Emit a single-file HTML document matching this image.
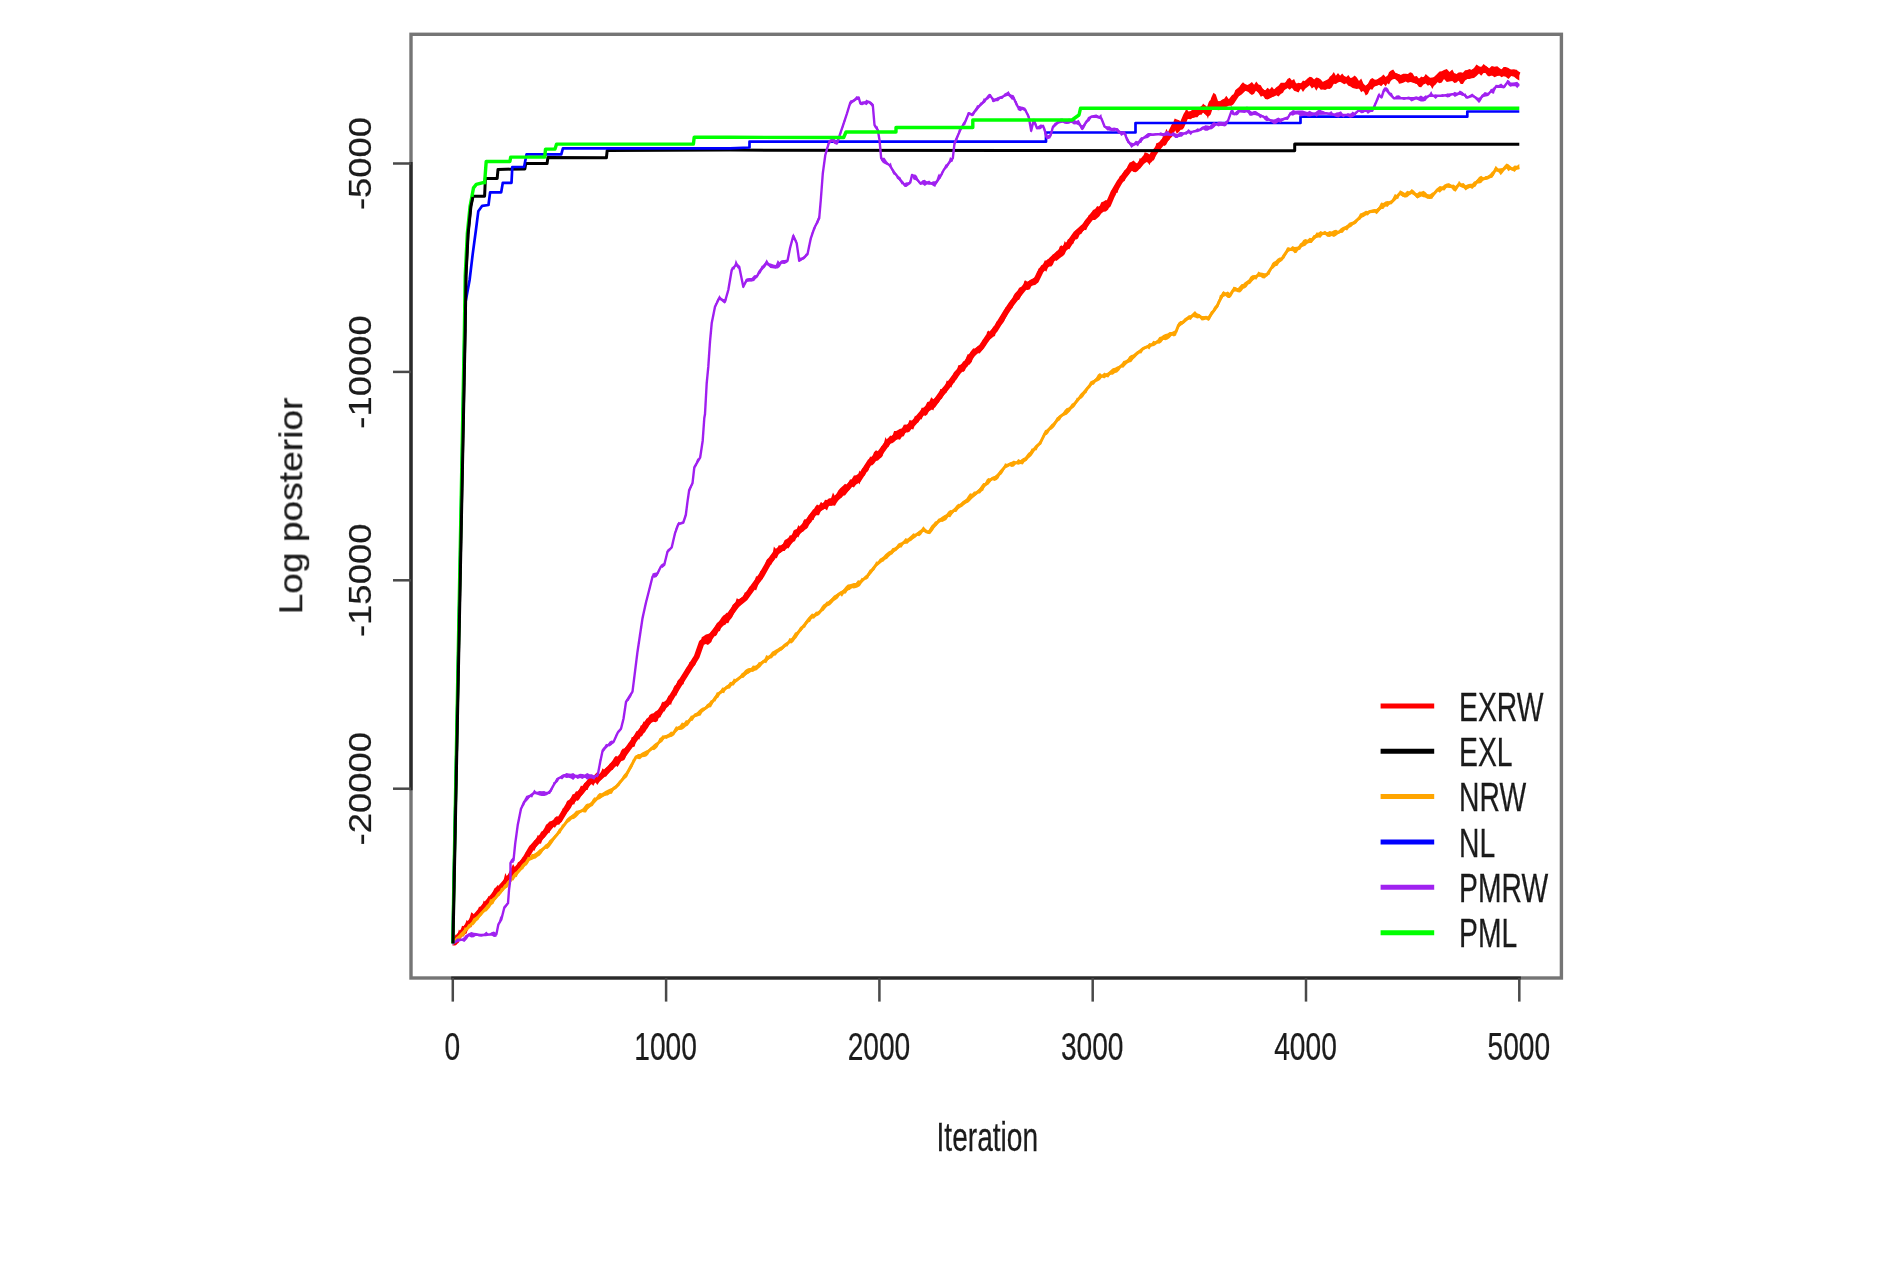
<!DOCTYPE html>
<html lang="en"><head><meta charset="utf-8"><title>Log posterior vs iteration</title>
<style>html,body{margin:0;padding:0;background:#fff}body{width:1896px;height:1284px;overflow:hidden}svg{display:block}</style>
</head><body>
<svg width="1896" height="1284" viewBox="0 0 1896 1284">
<defs><filter id="b" x="-2%" y="-2%" width="104%" height="104%"><feGaussianBlur stdDeviation="0.75"/></filter><filter id="x" x="-2%" y="-2%" width="104%" height="104%"><feGaussianBlur stdDeviation="0.35"/></filter><filter id="t" x="-2%" y="-2%" width="104%" height="104%"><feGaussianBlur stdDeviation="0.5"/></filter><clipPath id="cp"><rect x="451.2" y="36" width="1069.4" height="909.6"/></clipPath></defs>
<rect width="1896" height="1284" fill="#fff"/>
<g filter="url(#b)">
<g fill="none" stroke-linejoin="round" stroke-linecap="butt" clip-path="url(#cp)">
<path d="M452.7 943.4 L471.3 921.3 L491.4 898.2 L511.5 875.1 L524.5 860.0 L531.0 848.7 L542.7 835.3 L552.7 823.7 L559.3 820.3 L569.3 803.7 L581.0 792.0 L589.3 782.0 L599.3 777.8 L611.0 767.0 L624.3 753.7 L637.7 735.3 L649.3 720.3 L657.7 715.3 L664.3 705.3 L668.5 702.0 L680.0 683.3 L688.3 670.0 L696.7 656.7 L701.7 642.5 L710.0 637.5 L718.3 626.7 L728.3 616.7 L736.7 605.0 L745.0 598.3 L753.3 586.7 L761.7 575.0 L768.3 563.3 L776.7 551.7 L786.7 545.0 L796.7 533.3 L806.7 523.3 L815.0 511.7 L825.0 505.0 L835.0 499.2 L843.3 491.7 L851.7 483.3 L858.3 480.0 L870.0 461.7 L880.0 453.3 L888.3 441.7 L900.0 433.3 L913.3 423.3 L923.3 411.7 L933.3 405.0 L941.7 393.3 L950.0 383.3 L958.3 371.7 L965.0 365.0 L973.3 353.3 L981.7 346.7 L988.3 336.7 L995.0 330.0 L1005.6 312.7 L1010.6 305.1 L1019.0 294.1 L1025.8 285.7 L1036.0 280.6 L1041.0 270.5 L1043.0 268.3 L1051.3 260.0 L1059.7 252.5 L1068.0 245.0 L1076.3 233.3 L1084.7 225.8 L1093.0 215.0 L1101.3 208.3 L1108.0 205.0 L1113.0 193.3 L1119.7 181.7 L1126.3 173.3 L1131.3 166.7 L1138.0 166.7 L1144.7 158.3 L1149.7 160.0 L1156.3 150.0 L1163.0 141.7 L1169.7 135.0 L1174.7 125.0 L1181.3 126.7 L1186.3 115.0 L1193.0 115.0 L1199.7 111.7 L1203.0 108.3 L1208.0 113.3 L1211.3 103.3 L1218.0 105.0 L1226.3 101.7 L1231.3 102.5 L1236.3 95.0 L1243.0 86.7 L1249.7 89.2 L1256.3 87.5 L1263.0 92.5 L1269.7 95.0 L1276.3 91.7 L1283.0 87.5 L1289.7 83.3 L1296.3 86.7 L1303.0 85.8 L1309.7 80.8 L1316.3 84.2 L1323.0 85.0 L1329.7 81.7 L1338.0 78.3 L1346.3 80.0 L1354.7 81.7 L1359.0 85.0 L1365.7 89.2 L1372.3 84.2 L1379.0 81.7 L1385.7 80.8 L1390.7 76.7 L1395.7 75.8 L1400.7 80.0 L1405.7 77.5 L1412.3 79.2 L1419.0 81.7 L1425.7 79.2 L1432.3 83.3 L1437.3 78.3 L1444.0 75.8 L1452.3 75.8 L1460.7 78.3 L1467.3 75.8 L1474.0 71.7 L1479.0 70.0 L1485.7 69.2 L1489.0 72.5 L1497.3 72.5 L1505.7 72.5 L1514.0 72.5 L1519.3 75.0" stroke="#ff0000" stroke-width="5.8"/>
<path d="M452.7 939.1 L454.2 937.0 L455.8 934.6 L457.4 935.2 L458.9 929.4 L460.4 931.2 L462.0 925.8 L463.6 926.3 L465.1 924.2 L466.6 920.1 L468.2 921.3 L469.8 917.5 L471.3 912.2 L472.8 913.2 L474.4 915.1 L475.9 913.3 L477.5 911.4 L479.0 906.6 L480.6 907.5 L482.1 906.0 L483.7 900.5 L485.2 902.1 L486.8 900.8 L488.3 896.1 L489.9 897.3 L491.4 894.3 L492.9 891.6 L494.5 888.3 L496.0 887.3 L497.6 884.9 L499.1 886.8 L500.7 884.1 L502.2 882.7 L503.8 879.2 L505.3 873.1 L506.9 876.2 L508.4 873.8 L510.0 870.3 L511.5 867.5 L513.1 863.9 L514.8 866.9 L516.4 866.8 L518.0 862.0 L519.6 861.8 L521.2 859.6 L522.9 856.8 L524.5 857.3 L525.8 852.2 L527.1 851.2 L528.4 850.8 L529.7 845.6 L531.0 845.3 L532.7 843.6 L534.3 840.6 L536.0 839.8 L537.7 834.9 L539.4 836.2 L541.0 831.8 L542.7 831.0 L544.4 828.3 L546.0 824.8 L547.7 823.4 L549.4 821.5 L551.0 821.3 L552.7 820.8 L554.9 817.5 L557.1 816.1 L559.3 818.0 L560.5 814.7 L561.8 811.1 L563.0 807.8 L564.3 809.1 L565.5 806.0 L566.8 801.4 L568.0 800.3 L569.3 800.5 L571.0 797.4 L572.6 794.3 L574.3 794.0 L576.0 791.2 L577.7 791.6 L579.3 789.1 L581.0 785.5 L582.7 786.7 L584.3 782.9 L586.0 782.3 L587.6 780.8 L589.3 777.2 L591.3 776.2 L593.3 776.3 L595.3 774.1 L597.3 772.1 L599.3 774.9 L601.0 771.9 L602.6 768.3 L604.3 770.0 L606.0 767.8 L607.7 767.2 L609.3 763.9 L611.0 762.4 L612.7 760.2 L614.3 757.6 L616.0 755.7 L617.6 757.1 L619.3 755.3 L621.0 751.1 L622.6 748.7 L624.3 748.4 L625.8 747.1 L627.3 746.5 L628.8 742.8 L630.3 742.4 L631.7 737.1 L633.2 737.1 L634.7 734.8 L636.2 731.3 L637.7 731.2 L639.2 731.1 L640.6 725.5 L642.0 725.2 L643.5 721.5 L645.0 721.8 L646.4 718.4 L647.8 719.6 L649.3 715.2 L651.4 713.8 L653.5 713.2 L655.6 711.2 L657.7 710.3 L659.0 710.8 L660.3 707.9 L661.7 702.7 L663.0 701.4 L664.3 702.8 L666.4 700.6 L668.5 695.5 L669.8 696.0 L671.1 694.3 L672.3 693.3 L673.6 687.4 L674.9 685.2 L676.2 685.1 L677.4 681.0 L678.7 679.5 L680.0 679.0 L681.2 678.6 L682.4 676.0 L683.6 673.0 L684.7 672.4 L685.9 668.8 L687.1 667.1 L688.3 666.9 L689.5 661.9 L690.7 662.0 L691.9 661.7 L693.1 657.3 L694.3 656.7 L695.5 655.8 L696.7 653.5 L697.5 650.4 L698.4 647.3 L699.2 645.7 L700.0 644.6 L700.9 641.3 L701.7 637.3 L703.8 635.9 L705.9 634.5 L707.9 633.9 L710.0 633.3 L711.4 631.6 L712.8 630.0 L714.1 628.1 L715.5 625.6 L716.9 622.9 L718.3 622.1 L720.0 619.9 L721.6 617.6 L723.3 615.4 L725.0 614.5 L726.6 612.7 L728.3 612.9 L729.7 610.1 L731.1 608.7 L732.5 605.0 L733.9 603.8 L735.3 602.8 L736.7 598.3 L738.8 599.2 L740.9 598.0 L742.9 596.9 L745.0 592.0 L746.4 593.1 L747.8 591.1 L749.1 586.9 L750.5 586.2 L751.9 584.8 L753.3 583.4 L754.7 580.8 L756.1 576.1 L757.5 576.9 L758.9 575.9 L760.3 570.8 L761.7 571.5 L762.8 570.7 L763.9 568.4 L765.0 564.7 L766.1 561.1 L767.2 558.9 L768.3 558.6 L769.7 557.7 L771.1 555.1 L772.5 554.7 L773.9 546.5 L775.3 548.2 L776.7 549.4 L778.7 545.3 L780.7 545.4 L782.7 544.3 L784.7 539.9 L786.7 539.1 L788.4 537.8 L790.0 535.1 L791.7 536.2 L793.4 530.8 L795.0 529.6 L796.7 529.2 L798.4 525.0 L800.0 527.6 L801.7 525.5 L803.4 520.7 L805.0 518.7 L806.7 520.4 L808.1 515.9 L809.5 514.4 L810.9 512.7 L812.2 511.7 L813.6 510.7 L815.0 506.9 L817.0 504.5 L819.0 505.5 L821.0 501.7 L823.0 503.9 L825.0 499.8 L827.0 499.9 L829.0 498.3 L831.0 498.5 L833.0 492.6 L835.0 496.3 L836.7 493.6 L838.3 490.6 L840.0 488.6 L841.6 486.9 L843.3 485.4 L845.0 483.8 L846.7 484.7 L848.3 482.4 L850.0 479.6 L851.7 479.3 L853.9 475.6 L856.1 475.3 L858.3 473.7 L859.6 470.6 L860.9 472.3 L862.2 468.0 L863.5 469.4 L864.8 465.3 L866.1 464.6 L867.4 462.6 L868.7 460.7 L870.0 456.6 L872.0 457.3 L874.0 452.2 L876.0 450.2 L878.0 451.3 L880.0 450.0 L881.4 446.2 L882.8 445.8 L884.1 442.4 L885.5 437.1 L886.9 440.1 L888.3 438.1 L890.2 435.6 L892.2 436.5 L894.1 431.1 L896.1 431.0 L898.0 430.1 L900.0 428.7 L901.9 428.8 L903.8 424.7 L905.7 424.6 L907.6 425.1 L909.5 420.0 L911.4 420.5 L913.3 420.7 L915.0 415.6 L916.6 416.9 L918.3 414.0 L920.0 412.5 L921.6 407.7 L923.3 407.8 L925.3 405.9 L927.3 402.0 L929.3 401.5 L931.3 397.2 L933.3 399.3 L934.7 398.3 L936.1 397.2 L937.5 396.7 L938.9 393.4 L940.3 389.0 L941.7 389.3 L943.4 388.2 L945.0 386.1 L946.7 380.6 L948.3 381.3 L950.0 379.8 L951.4 377.3 L952.8 375.5 L954.1 371.8 L955.5 371.8 L956.9 369.9 L958.3 365.2 L960.0 365.1 L961.6 363.7 L963.3 361.2 L965.0 361.5 L966.4 356.9 L967.8 354.0 L969.1 354.4 L970.5 351.9 L971.9 350.0 L973.3 348.2 L975.4 349.1 L977.5 346.5 L979.6 345.3 L981.7 342.9 L983.0 339.3 L984.3 338.7 L985.7 338.2 L987.0 331.9 L988.3 330.5 L990.0 331.9 L991.6 329.5 L993.3 326.6 L995.0 326.5 L996.3 321.5 L997.6 322.0 L999.0 320.4 L1000.3 319.0 L1001.6 314.7 L1003.0 312.3 L1004.3 311.0 L1005.6 307.3 L1006.9 307.8 L1008.1 305.0 L1009.4 303.7 L1010.6 300.5 L1012.0 300.5 L1013.4 295.7 L1014.8 293.5 L1016.2 292.0 L1017.6 290.5 L1019.0 288.1 L1020.4 287.0 L1021.7 287.9 L1023.1 285.9 L1024.4 280.8 L1025.8 280.6 L1027.8 282.2 L1029.9 280.1 L1031.9 278.9 L1034.0 277.7 L1036.0 277.1 L1037.0 272.0 L1038.0 270.7 L1039.0 268.1 L1040.0 268.8 L1041.0 265.4 L1043.0 264.4 L1044.7 260.4 L1046.3 260.6 L1048.0 258.9 L1049.6 259.1 L1051.3 256.5 L1053.0 254.2 L1054.7 254.6 L1056.3 251.6 L1058.0 251.7 L1059.7 246.6 L1061.4 245.2 L1063.0 246.8 L1064.7 240.9 L1066.3 243.2 L1068.0 239.1 L1069.4 239.5 L1070.8 237.3 L1072.2 234.4 L1073.5 234.3 L1074.9 231.2 L1076.3 230.1 L1078.0 229.0 L1079.7 227.0 L1081.3 225.3 L1083.0 224.2 L1084.7 220.7 L1086.1 219.0 L1087.5 217.7 L1088.8 215.1 L1090.2 214.6 L1091.6 212.2 L1093.0 210.1 L1095.1 209.0 L1097.2 206.1 L1099.2 207.1 L1101.3 202.3 L1103.5 201.4 L1105.8 200.0 L1108.0 200.7 L1109.0 199.1 L1110.0 194.6 L1111.0 191.9 L1112.0 189.8 L1113.0 190.8 L1114.1 188.6 L1115.2 184.4 L1116.3 184.3 L1117.5 182.4 L1118.6 179.9 L1119.7 176.3 L1121.3 175.2 L1123.0 172.5 L1124.7 170.1 L1126.3 169.2 L1128.0 165.2 L1129.6 162.5 L1131.3 161.9 L1133.5 160.6 L1135.8 162.7 L1138.0 164.1 L1139.7 158.1 L1141.3 159.1 L1143.0 157.0 L1144.7 152.3 L1147.2 152.9 L1149.7 154.5 L1151.0 151.5 L1152.3 152.1 L1153.7 149.0 L1155.0 148.0 L1156.3 143.3 L1158.0 142.7 L1159.7 141.9 L1161.3 141.1 L1163.0 136.1 L1164.7 134.3 L1166.3 128.8 L1168.0 132.0 L1169.7 131.4 L1170.7 130.1 L1171.7 125.3 L1172.7 125.7 L1173.7 121.0 L1174.7 118.4 L1176.9 119.5 L1179.1 120.2 L1181.3 122.1 L1182.3 117.8 L1183.3 117.9 L1184.3 113.3 L1185.3 111.1 L1186.3 108.7 L1188.5 111.6 L1190.8 111.1 L1193.0 109.0 L1195.2 109.8 L1197.5 109.1 L1199.7 107.3 L1201.3 107.7 L1203.0 103.4 L1204.7 105.1 L1206.3 106.0 L1208.0 109.8 L1208.8 106.7 L1209.7 101.7 L1210.5 99.9 L1211.3 97.6 L1213.5 92.7 L1215.8 94.6 L1218.0 100.9 L1220.1 101.5 L1222.2 99.4 L1224.2 98.8 L1226.3 95.7 L1228.8 99.3 L1231.3 96.1 L1232.5 94.6 L1233.8 96.3 L1235.0 90.5 L1236.3 89.3 L1238.0 88.0 L1239.7 87.0 L1241.3 83.9 L1243.0 82.3 L1245.2 84.2 L1247.5 84.9 L1249.7 83.7 L1251.9 82.0 L1254.1 84.7 L1256.3 81.5 L1258.5 84.4 L1260.8 85.2 L1263.0 89.2 L1265.2 90.5 L1267.5 87.8 L1269.7 89.5 L1271.9 86.8 L1274.1 89.4 L1276.3 87.3 L1278.5 85.8 L1280.8 82.8 L1283.0 82.8 L1285.2 82.7 L1287.5 78.9 L1289.7 77.8 L1291.9 80.6 L1294.1 79.1 L1296.3 84.0 L1298.5 82.7 L1300.8 83.5 L1303.0 80.5 L1305.2 81.5 L1307.5 78.6 L1309.7 76.7 L1311.9 77.2 L1314.1 79.4 L1316.3 77.6 L1318.5 78.1 L1320.8 79.4 L1323.0 82.3 L1325.2 81.1 L1327.5 80.4 L1329.7 76.8 L1331.8 75.1 L1333.8 71.9 L1335.9 75.7 L1338.0 73.0 L1340.1 75.7 L1342.2 73.4 L1344.2 76.1 L1346.3 76.9 L1348.4 74.9 L1350.5 78.2 L1352.6 77.2 L1354.7 75.4 L1356.8 77.6 L1359.0 81.0 L1361.2 78.5 L1363.5 83.8 L1365.7 86.0 L1367.9 83.7 L1370.1 79.4 L1372.3 78.0 L1374.5 79.4 L1376.8 79.9 L1379.0 78.0 L1381.2 76.7 L1383.5 74.6 L1385.7 77.1 L1387.4 76.4 L1389.0 72.3 L1390.7 70.7 L1393.2 69.6 L1395.7 73.3 L1397.4 74.0 L1399.0 74.1 L1400.7 74.9 L1403.2 73.7 L1405.7 73.8 L1407.9 73.9 L1410.1 72.3 L1412.3 73.0 L1414.5 76.5 L1416.8 76.0 L1419.0 79.0 L1421.2 76.4 L1423.5 77.7 L1425.7 74.1 L1427.9 76.1 L1430.1 77.7 L1432.3 77.4 L1434.0 77.1 L1435.6 75.5 L1437.3 73.8 L1439.5 71.5 L1441.8 71.3 L1444.0 70.0 L1446.8 68.9 L1449.5 72.0 L1452.3 69.4 L1454.4 73.6 L1456.5 73.9 L1458.6 72.6 L1460.7 72.2 L1462.9 72.7 L1465.1 70.2 L1467.3 70.0 L1469.5 69.1 L1471.8 69.9 L1474.0 67.9 L1476.5 64.4 L1479.0 66.2 L1481.2 67.3 L1483.5 63.9 L1485.7 65.8 L1487.3 67.0 L1489.0 68.4 L1491.8 66.0 L1494.5 66.8 L1497.3 66.2 L1499.4 67.9 L1501.5 69.5 L1503.6 67.0 L1505.7 67.1 L1508.5 68.1 L1511.2 69.9 L1514.0 69.6 L1516.7 69.7 L1519.3 72.5 L1519.3 80.4 L1516.7 78.9 L1514.0 76.7 L1511.2 76.0 L1508.5 79.0 L1505.7 76.8 L1503.6 76.2 L1501.5 77.2 L1499.4 75.6 L1497.3 75.9 L1494.5 77.2 L1491.8 75.3 L1489.0 76.6 L1487.3 75.5 L1485.7 72.9 L1483.5 72.9 L1481.2 75.8 L1479.0 73.5 L1476.5 75.9 L1474.0 78.1 L1471.8 78.2 L1469.5 79.0 L1467.3 79.1 L1465.1 80.5 L1462.9 83.9 L1460.7 84.0 L1458.6 80.5 L1456.5 82.4 L1454.4 83.0 L1452.3 80.9 L1449.5 81.6 L1446.8 82.1 L1444.0 78.9 L1441.8 82.4 L1439.5 83.3 L1437.3 82.1 L1435.6 84.4 L1434.0 85.8 L1432.3 89.1 L1430.1 84.6 L1427.9 85.7 L1425.7 83.5 L1423.5 84.5 L1421.2 87.2 L1419.0 87.0 L1416.8 83.9 L1414.5 83.1 L1412.3 82.2 L1410.1 82.0 L1407.9 82.7 L1405.7 81.4 L1403.2 82.7 L1400.7 83.6 L1399.0 83.8 L1397.4 79.6 L1395.7 78.8 L1393.2 78.7 L1390.7 81.0 L1389.0 84.6 L1387.4 83.2 L1385.7 86.4 L1383.5 83.8 L1381.2 86.2 L1379.0 84.8 L1376.8 85.6 L1374.5 86.2 L1372.3 89.7 L1370.1 89.0 L1367.9 93.9 L1365.7 95.4 L1363.5 90.4 L1361.2 92.3 L1359.0 88.6 L1356.8 89.1 L1354.7 88.4 L1352.6 87.9 L1350.5 86.5 L1348.4 85.7 L1346.3 83.3 L1344.2 84.2 L1342.2 82.9 L1340.1 81.7 L1338.0 82.6 L1335.9 84.0 L1333.8 83.8 L1331.8 87.4 L1329.7 88.9 L1327.5 88.8 L1325.2 90.0 L1323.0 89.6 L1320.8 89.7 L1318.5 86.9 L1316.3 90.7 L1314.1 86.8 L1311.9 88.5 L1309.7 85.2 L1307.5 87.0 L1305.2 88.8 L1303.0 91.9 L1300.8 88.5 L1298.5 92.5 L1296.3 91.5 L1294.1 90.8 L1291.9 87.8 L1289.7 89.8 L1287.5 88.0 L1285.2 88.6 L1283.0 92.7 L1280.8 93.9 L1278.5 96.4 L1276.3 95.2 L1274.1 96.4 L1271.9 97.3 L1269.7 98.6 L1267.5 99.5 L1265.2 99.0 L1263.0 95.7 L1260.8 96.7 L1258.5 92.9 L1256.3 90.0 L1254.1 93.7 L1251.9 94.9 L1249.7 93.4 L1247.5 90.9 L1245.2 91.0 L1243.0 93.3 L1241.3 94.8 L1239.7 95.8 L1238.0 96.1 L1236.3 97.8 L1235.0 101.3 L1233.8 103.0 L1232.5 103.5 L1231.3 105.7 L1228.8 105.8 L1226.3 106.9 L1224.2 108.1 L1222.2 107.6 L1220.1 109.9 L1218.0 110.3 L1215.8 109.3 L1213.5 109.0 L1211.3 105.8 L1210.5 111.6 L1209.7 114.3 L1208.8 114.4 L1208.0 119.1 L1206.3 114.2 L1204.7 113.7 L1203.0 112.2 L1201.3 114.9 L1199.7 114.0 L1197.5 117.2 L1195.2 117.2 L1193.0 117.6 L1190.8 119.2 L1188.5 118.9 L1186.3 119.0 L1185.3 123.8 L1184.3 123.4 L1183.3 124.7 L1182.3 129.5 L1181.3 129.1 L1179.1 131.7 L1176.9 133.8 L1174.7 129.6 L1173.7 129.8 L1172.7 133.3 L1171.7 134.4 L1170.7 135.7 L1169.7 139.5 L1168.0 141.3 L1166.3 144.6 L1164.7 146.1 L1163.0 145.1 L1161.3 146.8 L1159.7 148.8 L1158.0 151.2 L1156.3 152.6 L1155.0 157.9 L1153.7 160.6 L1152.3 160.3 L1151.0 160.4 L1149.7 165.2 L1147.2 161.8 L1144.7 163.2 L1143.0 164.6 L1141.3 166.6 L1139.7 168.2 L1138.0 170.8 L1135.8 172.3 L1133.5 172.0 L1131.3 170.3 L1129.6 172.7 L1128.0 175.2 L1126.3 176.2 L1124.7 180.9 L1123.0 181.4 L1121.3 182.5 L1119.7 184.8 L1118.6 188.7 L1117.5 192.9 L1116.3 192.6 L1115.2 195.7 L1114.1 194.5 L1113.0 197.1 L1112.0 198.6 L1111.0 203.7 L1110.0 204.8 L1109.0 207.8 L1108.0 209.7 L1105.8 211.5 L1103.5 211.8 L1101.3 213.5 L1099.2 216.6 L1097.2 218.3 L1095.1 220.0 L1093.0 219.9 L1091.6 219.2 L1090.2 221.9 L1088.8 224.7 L1087.5 227.0 L1086.1 230.2 L1084.7 229.8 L1083.0 231.2 L1081.3 234.1 L1079.7 234.4 L1078.0 238.4 L1076.3 239.5 L1074.9 239.0 L1073.5 243.5 L1072.2 244.4 L1070.8 246.7 L1069.4 249.3 L1068.0 248.9 L1066.3 250.5 L1064.7 254.3 L1063.0 256.0 L1061.4 256.9 L1059.7 258.3 L1058.0 259.7 L1056.3 261.1 L1054.7 260.0 L1053.0 264.5 L1051.3 266.4 L1049.6 266.4 L1048.0 267.4 L1046.3 271.7 L1044.7 270.3 L1043.0 271.7 L1041.0 274.0 L1040.0 274.9 L1039.0 277.9 L1038.0 279.5 L1037.0 282.6 L1036.0 284.6 L1034.0 285.3 L1031.9 285.1 L1029.9 289.2 L1027.8 290.1 L1025.8 289.7 L1024.4 290.3 L1023.1 291.4 L1021.7 294.7 L1020.4 297.5 L1019.0 300.0 L1017.6 299.7 L1016.2 301.8 L1014.8 302.1 L1013.4 305.8 L1012.0 308.7 L1010.6 308.0 L1009.4 310.4 L1008.1 312.5 L1006.9 315.8 L1005.6 318.0 L1004.3 321.1 L1003.0 323.0 L1001.6 324.3 L1000.3 326.0 L999.0 326.8 L997.6 329.6 L996.3 330.3 L995.0 336.0 L993.3 336.7 L991.6 338.2 L990.0 339.4 L988.3 341.5 L987.0 342.1 L985.7 345.2 L984.3 346.6 L983.0 349.4 L981.7 350.9 L979.6 353.6 L977.5 353.0 L975.4 355.6 L973.3 356.0 L971.9 361.8 L970.5 363.5 L969.1 365.0 L967.8 363.6 L966.4 366.3 L965.0 370.4 L963.3 371.9 L961.6 371.2 L960.0 372.5 L958.3 375.0 L956.9 379.3 L955.5 379.6 L954.1 383.0 L952.8 382.4 L951.4 387.7 L950.0 385.7 L948.3 387.9 L946.7 392.6 L945.0 393.7 L943.4 396.0 L941.7 399.0 L940.3 399.6 L938.9 402.6 L937.5 403.2 L936.1 404.9 L934.7 406.4 L933.3 410.5 L931.3 409.0 L929.3 410.6 L927.3 414.6 L925.3 416.0 L923.3 415.0 L921.6 419.4 L920.0 419.0 L918.3 422.4 L916.6 423.1 L915.0 424.7 L913.3 429.6 L911.4 429.0 L909.5 431.7 L907.6 432.5 L905.7 432.3 L903.8 436.2 L901.9 436.8 L900.0 439.8 L898.0 439.2 L896.1 440.0 L894.1 442.0 L892.2 443.2 L890.2 443.4 L888.3 447.3 L886.9 447.0 L885.5 450.2 L884.1 450.2 L882.8 455.8 L881.4 457.6 L880.0 458.5 L878.0 460.4 L876.0 460.9 L874.0 463.8 L872.0 465.5 L870.0 464.8 L868.7 469.9 L867.4 471.8 L866.1 471.4 L864.8 476.2 L863.5 474.3 L862.2 477.9 L860.9 479.7 L859.6 484.5 L858.3 482.7 L856.1 484.4 L853.9 487.4 L851.7 486.6 L850.0 489.6 L848.3 491.2 L846.7 493.3 L845.0 495.5 L843.3 495.4 L841.6 497.8 L840.0 498.8 L838.3 500.6 L836.7 502.7 L835.0 505.7 L833.0 505.5 L831.0 506.1 L829.0 505.6 L827.0 510.6 L825.0 508.7 L823.0 509.4 L821.0 510.8 L819.0 515.3 L817.0 515.3 L815.0 515.2 L813.6 519.9 L812.2 519.9 L810.9 522.9 L809.5 522.6 L808.1 527.3 L806.7 528.7 L805.0 529.7 L803.4 531.6 L801.7 532.3 L800.0 533.7 L798.4 537.4 L796.7 535.7 L795.0 541.2 L793.4 541.4 L791.7 542.0 L790.0 546.0 L788.4 548.5 L786.7 547.7 L784.7 551.1 L782.7 550.9 L780.7 552.8 L778.7 553.9 L776.7 558.4 L775.3 557.0 L773.9 560.7 L772.5 561.5 L771.1 564.9 L769.7 565.0 L768.3 567.9 L767.2 568.0 L766.1 570.8 L765.0 573.5 L763.9 574.6 L762.8 579.0 L761.7 579.7 L760.3 581.5 L758.9 581.9 L757.5 586.7 L756.1 590.4 L754.7 589.4 L753.3 589.2 L751.9 593.3 L750.5 594.0 L749.1 596.2 L747.8 597.5 L746.4 599.7 L745.0 600.8 L742.9 602.5 L740.9 604.5 L738.8 606.9 L736.7 609.0 L735.3 611.1 L733.9 613.5 L732.5 616.8 L731.1 618.7 L729.7 620.2 L728.3 623.3 L726.6 623.0 L725.0 625.2 L723.3 624.4 L721.6 626.0 L720.0 630.9 L718.3 631.4 L716.9 634.7 L715.5 636.3 L714.1 635.3 L712.8 637.8 L711.4 642.1 L710.0 643.3 L707.9 645.1 L705.9 643.9 L703.8 644.8 L701.7 645.2 L700.9 650.6 L700.0 652.0 L699.2 652.3 L698.4 657.5 L697.5 659.5 L696.7 660.9 L695.5 664.5 L694.3 666.1 L693.1 666.3 L691.9 667.0 L690.7 671.2 L689.5 670.6 L688.3 673.4 L687.1 676.8 L685.9 677.7 L684.7 678.5 L683.6 684.3 L682.4 684.4 L681.2 685.6 L680.0 686.5 L678.7 690.3 L677.4 692.9 L676.2 696.1 L674.9 694.2 L673.6 699.3 L672.3 698.8 L671.1 705.2 L669.8 703.5 L668.5 706.2 L666.4 708.1 L664.3 711.7 L663.0 709.9 L661.7 714.1 L660.3 717.6 L659.0 716.5 L657.7 720.9 L655.6 722.2 L653.5 721.8 L651.4 722.8 L649.3 725.3 L647.8 728.1 L646.4 729.7 L645.0 732.2 L643.5 733.4 L642.0 736.3 L640.6 736.6 L639.2 739.7 L637.7 738.5 L636.2 740.4 L634.7 746.5 L633.2 747.1 L631.7 746.2 L630.3 748.7 L628.8 752.1 L627.3 752.2 L625.8 757.3 L624.3 760.0 L622.6 760.7 L621.0 761.2 L619.3 764.2 L617.6 767.0 L616.0 765.7 L614.3 767.0 L612.7 770.0 L611.0 770.0 L609.3 772.8 L607.7 774.6 L606.0 776.7 L604.3 776.5 L602.6 777.6 L601.0 780.0 L599.3 782.0 L597.3 785.0 L595.3 782.1 L593.3 786.1 L591.3 783.6 L589.3 785.2 L587.6 790.0 L586.0 790.0 L584.3 792.6 L582.7 794.6 L581.0 796.5 L579.3 799.2 L577.7 801.1 L576.0 799.6 L574.3 804.4 L572.6 804.2 L571.0 807.8 L569.3 810.0 L568.0 811.7 L566.8 812.2 L565.5 814.7 L564.3 816.3 L563.0 816.8 L561.8 821.8 L560.5 822.0 L559.3 824.7 L557.1 824.6 L554.9 827.7 L552.7 826.2 L551.0 828.0 L549.4 833.3 L547.7 832.0 L546.0 835.7 L544.4 837.8 L542.7 838.8 L541.0 843.7 L539.4 843.6 L537.7 845.0 L536.0 847.2 L534.3 851.1 L532.7 849.8 L531.0 851.0 L529.7 855.4 L528.4 858.2 L527.1 861.5 L525.8 861.7 L524.5 865.1 L522.9 865.9 L521.2 869.6 L519.6 871.0 L518.0 872.9 L516.4 874.1 L514.8 876.8 L513.1 879.7 L511.5 877.6 L510.0 882.1 L508.4 881.5 L506.9 883.0 L505.3 885.4 L503.8 890.0 L502.2 891.2 L500.7 893.5 L499.1 895.9 L497.6 896.0 L496.0 899.3 L494.5 900.5 L492.9 902.5 L491.4 902.5 L489.9 904.8 L488.3 905.5 L486.8 910.2 L485.2 909.3 L483.7 912.9 L482.1 913.0 L480.6 916.2 L479.0 915.5 L477.5 917.6 L475.9 919.7 L474.4 922.8 L472.8 923.9 L471.3 927.3 L469.8 927.2 L468.2 928.3 L466.6 933.5 L465.1 933.9 L463.6 936.5 L462.0 935.7 L460.4 936.6 L458.9 942.6 L457.4 943.7 L455.8 945.5 L454.2 946.4 L452.7 948.2Z" fill="#ff0000" stroke="none"/>
<path d="M452.7 943.4 L465.0 330.0 L465.8 276.0 L467.9 234.0 L470.7 206.0 L472.8 196.3 L473.5 196.3 L484.6 196.3 L485.4 178.4 L497.2 178.4 L498.0 169.4 L524.9 168.9 L525.7 163.5 L547.1 163.5 L547.9 157.5 L606.4 157.8 L607.2 150.4 L730.0 150.1 L1294.7 150.8 L1294.7 144.0 L1519.3 144.2" stroke="#000000" stroke-width="3.0"/>
<path d="M452.7 943.4 L473.3 922.3 L493.4 900.2 L513.5 877.1 L526.5 862.5 L527.7 860.3 L537.7 853.7 L549.3 843.7 L557.7 833.7 L567.7 820.3 L576.0 813.7 L586.0 808.7 L597.7 797.8 L607.7 792.8 L616.0 787.0 L626.0 775.3 L636.0 757.0 L644.3 754.5 L656.0 745.3 L664.3 737.0 L671.0 735.3 L677.7 728.7 L686.0 723.7 L692.7 717.0 L702.7 710.3 L711.0 703.7 L718.3 694.0 L730.0 685.0 L743.3 675.0 L756.7 666.7 L770.0 656.7 L781.7 648.3 L793.3 638.3 L801.7 628.3 L810.0 618.3 L820.0 611.7 L830.0 601.7 L840.0 593.3 L851.7 586.7 L860.0 582.5 L868.3 575.0 L876.0 565.0 L901.7 544.0 L913.3 536.7 L923.3 530.0 L928.3 532.5 L938.3 521.7 L948.3 515.0 L958.3 506.7 L970.0 498.3 L980.0 490.0 L990.0 480.0 L996.7 476.7 L1005.0 466.7 L1011.7 463.3 L1018.3 462.5 L1025.0 460.0 L1033.3 450.0 L1040.0 443.3 L1045.0 433.3 L1053.3 425.0 L1060.0 416.7 L1066.7 411.7 L1075.0 403.3 L1083.3 393.3 L1091.7 383.3 L1100.0 376.7 L1108.3 374.2 L1115.0 370.8 L1123.3 364.2 L1133.3 356.7 L1143.3 348.3 L1153.3 344.2 L1163.3 338.3 L1176.0 331.7 L1178.3 325.8 L1186.7 319.2 L1195.0 314.2 L1201.7 317.5 L1208.3 318.3 L1216.7 306.7 L1223.3 293.3 L1230.0 295.8 L1233.3 290.0 L1240.0 289.2 L1248.3 281.7 L1258.3 275.0 L1266.7 275.0 L1273.3 265.0 L1281.7 259.2 L1288.3 249.2 L1296.7 250.0 L1303.3 243.3 L1311.7 240.0 L1318.3 234.2 L1325.0 233.3 L1331.7 234.2 L1338.3 232.5 L1345.0 228.3 L1353.3 223.3 L1361.7 215.8 L1370.0 211.7 L1376.7 210.8 L1383.3 205.8 L1391.7 201.7 L1400.0 193.3 L1405.0 195.8 L1411.7 191.7 L1416.0 195.0 L1417.3 196.7 L1421.5 193.3 L1427.3 196.7 L1432.3 195.8 L1437.3 190.0 L1442.3 188.3 L1449.0 185.0 L1455.7 188.3 L1459.0 184.2 L1465.7 187.5 L1472.3 185.8 L1479.0 180.0 L1485.7 178.3 L1492.3 175.0 L1495.7 169.2 L1500.7 171.7 L1506.5 166.7 L1512.3 169.2 L1519.3 167.5" stroke="#ffa500" stroke-width="3.0"/>
<path d="M452.7 941.1 L454.4 940.6 L456.1 936.9 L457.9 936.7 L459.6 935.2 L461.3 932.7 L463.0 931.7 L464.7 927.3 L466.4 928.0 L468.1 924.6 L469.9 923.7 L471.6 922.0 L473.3 918.6 L475.0 917.5 L476.6 916.6 L478.3 915.7 L480.0 913.3 L481.7 911.8 L483.4 910.1 L485.0 908.3 L486.7 905.2 L488.4 904.3 L490.0 899.4 L491.7 898.9 L493.4 897.5 L494.9 897.4 L496.5 893.9 L498.0 892.1 L499.6 891.6 L501.1 887.7 L502.7 887.9 L504.2 884.8 L505.8 884.3 L507.3 881.5 L508.9 880.3 L510.4 878.0 L512.0 876.3 L513.5 873.9 L515.1 872.1 L516.8 871.6 L518.4 868.9 L520.0 867.7 L521.6 865.1 L523.2 863.2 L524.9 862.3 L526.5 861.0 L527.7 856.8 L529.7 857.2 L531.7 854.1 L533.7 854.0 L535.7 852.7 L537.7 851.2 L539.6 849.2 L541.6 848.4 L543.5 846.7 L545.4 844.5 L547.4 843.6 L549.3 840.3 L551.0 838.9 L552.7 837.5 L554.3 835.6 L556.0 834.2 L557.7 831.2 L559.1 828.5 L560.6 828.5 L562.0 824.5 L563.4 824.6 L564.8 822.6 L566.3 819.5 L567.7 818.0 L569.8 816.2 L571.9 814.9 L573.9 813.6 L576.0 810.8 L578.0 810.6 L580.0 810.3 L582.0 809.5 L584.0 806.8 L586.0 804.3 L587.7 803.5 L589.3 803.4 L591.0 802.8 L592.7 799.3 L594.4 797.3 L596.0 797.7 L597.7 794.7 L599.7 793.0 L601.7 793.3 L603.7 792.1 L605.7 790.7 L607.7 789.7 L609.8 788.7 L611.9 787.9 L613.9 786.2 L616.0 785.1 L617.7 783.2 L619.3 780.7 L621.0 779.9 L622.7 776.3 L624.3 773.9 L626.0 772.5 L627.1 771.0 L628.2 769.2 L629.3 766.7 L630.4 764.4 L631.6 764.1 L632.7 759.4 L633.8 758.9 L634.9 757.9 L636.0 755.6 L638.1 754.0 L640.1 754.1 L642.2 752.6 L644.3 751.4 L646.2 750.5 L648.2 749.9 L650.1 747.7 L652.1 746.2 L654.0 744.3 L656.0 742.8 L657.7 742.6 L659.3 738.2 L661.0 737.2 L662.6 735.2 L664.3 735.8 L666.5 735.0 L668.8 733.4 L671.0 731.6 L672.7 731.9 L674.4 728.7 L676.0 726.2 L677.7 726.7 L679.8 725.5 L681.9 722.4 L683.9 723.1 L686.0 720.1 L687.7 720.7 L689.4 718.1 L691.0 715.5 L692.7 715.9 L694.7 713.3 L696.7 713.1 L698.7 710.5 L700.7 708.7 L702.7 707.6 L704.8 707.2 L706.9 704.3 L708.9 702.9 L711.0 700.0 L712.5 700.4 L713.9 697.2 L715.4 695.5 L716.8 692.3 L718.3 692.6 L720.2 691.1 L722.2 687.6 L724.1 687.7 L726.1 685.8 L728.0 684.9 L730.0 681.7 L731.9 682.2 L733.8 678.6 L735.7 679.2 L737.6 678.2 L739.5 676.6 L741.4 673.4 L743.3 672.3 L745.2 670.1 L747.1 668.8 L749.0 668.0 L751.0 667.9 L752.9 665.5 L754.8 665.8 L756.7 665.4 L758.6 662.3 L760.5 662.0 L762.4 660.5 L764.3 659.5 L766.2 655.1 L768.1 656.1 L770.0 654.5 L772.0 651.7 L773.9 650.8 L775.9 649.6 L777.8 648.6 L779.8 647.0 L781.7 646.3 L783.6 644.2 L785.6 642.7 L787.5 642.2 L789.4 638.0 L791.4 638.8 L793.3 635.4 L795.0 632.6 L796.7 632.0 L798.3 630.2 L800.0 627.1 L801.7 626.0 L803.4 624.9 L805.0 621.7 L806.7 619.6 L808.3 617.4 L810.0 615.4 L812.0 613.4 L814.0 613.9 L816.0 611.6 L818.0 612.0 L820.0 609.2 L821.7 606.5 L823.3 604.6 L825.0 603.5 L826.7 601.4 L828.3 601.6 L830.0 600.0 L832.0 597.7 L834.0 595.6 L836.0 594.4 L838.0 592.9 L840.0 592.1 L842.0 590.9 L843.9 588.7 L845.9 586.3 L847.8 584.6 L849.8 584.3 L851.7 583.8 L853.8 583.0 L855.9 583.1 L857.9 580.3 L860.0 580.6 L861.7 577.8 L863.3 578.2 L865.0 575.9 L866.6 575.1 L868.3 571.9 L869.8 569.6 L871.4 569.2 L872.9 567.1 L874.5 565.5 L876.0 561.5 L877.8 561.8 L879.7 558.7 L881.5 557.8 L883.3 556.6 L885.2 554.3 L887.0 552.7 L888.9 551.2 L890.7 550.4 L892.5 548.0 L894.4 547.7 L896.2 546.5 L898.0 543.8 L899.9 542.8 L901.7 542.4 L903.6 540.6 L905.6 538.1 L907.5 539.1 L909.4 536.9 L911.4 535.2 L913.3 533.3 L915.3 534.0 L917.3 532.4 L919.3 530.8 L921.3 529.2 L923.3 526.3 L925.8 529.1 L928.3 530.9 L930.0 527.8 L931.6 525.3 L933.3 523.8 L935.0 521.5 L936.6 521.1 L938.3 518.8 L940.3 518.1 L942.3 516.6 L944.3 515.2 L946.3 514.2 L948.3 511.5 L950.3 510.0 L952.3 510.5 L954.3 508.6 L956.3 505.4 L958.3 503.7 L960.2 504.0 L962.2 501.6 L964.1 500.3 L966.1 499.0 L968.0 495.9 L970.0 493.3 L972.0 493.8 L974.0 491.5 L976.0 491.4 L978.0 489.9 L980.0 487.6 L981.7 485.0 L983.3 482.9 L985.0 483.1 L986.7 479.6 L988.3 478.1 L990.0 478.5 L992.2 476.8 L994.5 476.2 L996.7 474.6 L998.4 473.4 L1000.0 470.3 L1001.7 469.2 L1003.3 467.6 L1005.0 463.3 L1007.2 463.9 L1009.5 462.7 L1011.7 462.0 L1013.9 460.6 L1016.1 461.8 L1018.3 459.1 L1020.5 460.3 L1022.8 458.2 L1025.0 457.2 L1026.7 455.0 L1028.3 452.7 L1030.0 452.1 L1031.6 448.6 L1033.3 448.5 L1035.0 445.7 L1036.7 444.2 L1038.3 442.9 L1040.0 440.8 L1041.0 439.5 L1042.0 437.6 L1043.0 434.4 L1044.0 432.8 L1045.0 430.0 L1046.7 429.8 L1048.3 428.3 L1050.0 425.9 L1051.6 423.9 L1053.3 423.3 L1055.0 420.8 L1056.7 417.6 L1058.3 416.5 L1060.0 415.2 L1062.2 414.0 L1064.5 410.2 L1066.7 407.9 L1068.4 407.8 L1070.0 406.4 L1071.7 403.7 L1073.3 403.1 L1075.0 402.1 L1076.7 397.8 L1078.3 398.0 L1080.0 394.2 L1081.6 392.8 L1083.3 392.2 L1085.0 389.7 L1086.7 387.2 L1088.3 386.2 L1090.0 381.7 L1091.7 380.7 L1093.8 379.9 L1095.8 378.2 L1097.9 374.6 L1100.0 373.1 L1102.1 374.9 L1104.2 372.5 L1106.2 373.8 L1108.3 372.2 L1110.5 370.2 L1112.8 368.2 L1115.0 367.8 L1117.1 366.6 L1119.2 366.1 L1121.2 364.6 L1123.3 360.9 L1125.3 360.5 L1127.3 359.4 L1129.3 356.3 L1131.3 355.0 L1133.3 354.6 L1135.3 352.8 L1137.3 351.1 L1139.3 350.6 L1141.3 348.8 L1143.3 347.2 L1145.3 346.2 L1147.3 345.5 L1149.3 342.9 L1151.3 343.4 L1153.3 340.8 L1155.3 341.4 L1157.3 339.9 L1159.3 337.0 L1161.3 336.4 L1163.3 334.9 L1165.4 334.1 L1167.5 333.5 L1169.7 331.9 L1171.8 331.9 L1173.9 331.7 L1176.0 329.9 L1176.8 327.7 L1177.5 324.6 L1178.3 322.8 L1180.4 320.9 L1182.5 321.0 L1184.6 318.3 L1186.7 317.1 L1188.8 315.3 L1190.8 315.2 L1192.9 312.9 L1195.0 311.1 L1197.2 313.6 L1199.5 314.0 L1201.7 316.0 L1203.9 316.2 L1206.1 315.8 L1208.3 316.6 L1209.7 313.8 L1211.1 311.0 L1212.5 310.8 L1213.9 307.2 L1215.3 305.4 L1216.7 305.3 L1217.8 301.1 L1218.9 298.9 L1220.0 294.4 L1221.1 295.5 L1222.2 293.3 L1223.3 290.9 L1225.5 292.6 L1227.8 291.4 L1230.0 293.1 L1231.1 290.7 L1232.2 290.0 L1233.3 286.7 L1235.5 286.9 L1237.8 288.2 L1240.0 285.8 L1241.7 284.0 L1243.3 283.9 L1245.0 281.9 L1246.6 281.4 L1248.3 280.2 L1250.3 276.7 L1252.3 275.2 L1254.3 275.1 L1256.3 275.2 L1258.3 271.4 L1260.4 272.6 L1262.5 272.7 L1264.6 273.4 L1266.7 272.9 L1268.0 271.6 L1269.3 269.5 L1270.7 267.4 L1272.0 263.6 L1273.3 262.1 L1275.4 260.9 L1277.5 258.7 L1279.6 257.4 L1281.7 257.6 L1283.0 254.4 L1284.3 253.6 L1285.7 251.5 L1287.0 247.4 L1288.3 247.2 L1290.4 248.1 L1292.5 246.0 L1294.6 247.1 L1296.7 246.8 L1298.3 246.6 L1300.0 243.6 L1301.7 242.5 L1303.3 240.1 L1305.4 239.0 L1307.5 239.7 L1309.6 237.8 L1311.7 238.2 L1313.3 235.3 L1315.0 235.0 L1316.7 232.2 L1318.3 233.0 L1320.5 231.0 L1322.8 231.9 L1325.0 230.8 L1327.2 232.5 L1329.5 230.9 L1331.7 231.5 L1333.9 230.2 L1336.1 229.7 L1338.3 231.0 L1340.5 228.5 L1342.8 227.0 L1345.0 226.2 L1347.1 225.1 L1349.2 222.8 L1351.2 221.9 L1353.3 221.5 L1355.0 220.6 L1356.7 219.2 L1358.3 217.1 L1360.0 213.6 L1361.7 212.9 L1363.8 211.9 L1365.8 210.7 L1367.9 211.0 L1370.0 209.9 L1372.2 209.6 L1374.5 209.0 L1376.7 209.3 L1378.9 206.7 L1381.1 202.6 L1383.3 203.1 L1385.4 201.6 L1387.5 200.9 L1389.6 201.4 L1391.7 200.4 L1393.4 196.7 L1395.0 193.8 L1396.7 195.4 L1398.3 193.6 L1400.0 190.3 L1402.5 191.4 L1405.0 192.9 L1407.2 190.8 L1409.5 191.5 L1411.7 189.0 L1413.8 190.6 L1416.0 192.9 L1417.3 193.2 L1419.4 191.5 L1421.5 191.7 L1423.4 190.8 L1425.4 192.1 L1427.3 194.0 L1429.8 194.6 L1432.3 192.4 L1434.0 192.6 L1435.6 190.1 L1437.3 188.1 L1439.8 186.0 L1442.3 186.6 L1444.5 184.6 L1446.8 183.5 L1449.0 183.2 L1451.2 185.0 L1453.5 184.6 L1455.7 186.1 L1457.3 184.7 L1459.0 180.8 L1461.2 183.4 L1463.5 183.1 L1465.7 185.2 L1467.9 184.2 L1470.1 183.8 L1472.3 183.7 L1474.0 181.4 L1475.7 181.3 L1477.3 179.3 L1479.0 177.1 L1481.2 175.7 L1483.5 177.5 L1485.7 175.9 L1487.9 176.0 L1490.1 173.9 L1492.3 171.3 L1493.4 172.0 L1494.6 168.1 L1495.7 165.7 L1498.2 168.4 L1500.7 168.2 L1502.6 167.9 L1504.6 165.4 L1506.5 163.5 L1508.4 164.3 L1510.4 166.1 L1512.3 167.5 L1514.6 165.6 L1517.0 165.8 L1519.3 164.0 L1519.3 169.2 L1517.0 169.2 L1514.6 172.0 L1512.3 170.5 L1510.4 169.7 L1508.4 171.2 L1506.5 168.4 L1504.6 170.2 L1502.6 172.9 L1500.7 175.2 L1498.2 171.6 L1495.7 171.5 L1494.6 173.7 L1493.4 176.1 L1492.3 177.7 L1490.1 178.2 L1487.9 179.6 L1485.7 179.7 L1483.5 180.3 L1481.2 183.0 L1479.0 183.4 L1477.3 183.6 L1475.7 186.6 L1474.0 187.3 L1472.3 188.9 L1470.1 187.7 L1467.9 188.8 L1465.7 190.4 L1463.5 188.1 L1461.2 187.2 L1459.0 186.0 L1457.3 189.2 L1455.7 191.7 L1453.5 190.8 L1451.2 188.0 L1449.0 187.9 L1446.8 187.5 L1444.5 190.4 L1442.3 190.2 L1439.8 192.7 L1437.3 191.1 L1435.6 193.1 L1434.0 195.5 L1432.3 198.8 L1429.8 199.0 L1427.3 198.7 L1425.4 197.5 L1423.4 197.2 L1421.5 196.6 L1419.4 197.6 L1417.3 198.6 L1416.0 196.9 L1413.8 194.8 L1411.7 194.0 L1409.5 195.3 L1407.2 197.2 L1405.0 197.6 L1402.5 196.8 L1400.0 194.6 L1398.3 198.8 L1396.7 198.9 L1395.0 200.8 L1393.4 202.3 L1391.7 204.2 L1389.6 204.4 L1387.5 206.9 L1385.4 206.3 L1383.3 208.9 L1381.1 209.1 L1378.9 211.8 L1376.7 214.2 L1374.5 212.4 L1372.2 213.0 L1370.0 212.9 L1367.9 215.6 L1365.8 215.0 L1363.8 217.0 L1361.7 217.5 L1360.0 220.1 L1358.3 220.2 L1356.7 223.1 L1355.0 224.2 L1353.3 224.6 L1351.2 227.1 L1349.2 227.8 L1347.1 230.4 L1345.0 229.8 L1342.8 232.7 L1340.5 232.9 L1338.3 233.8 L1336.1 235.8 L1333.9 237.0 L1331.7 236.1 L1329.5 236.9 L1327.2 236.8 L1325.0 234.7 L1322.8 234.8 L1320.5 237.7 L1318.3 237.5 L1316.7 238.1 L1315.0 238.6 L1313.3 240.7 L1311.7 242.9 L1309.6 243.0 L1307.5 243.6 L1305.4 245.7 L1303.3 246.5 L1301.7 247.2 L1300.0 250.0 L1298.3 249.5 L1296.7 252.7 L1294.6 253.3 L1292.5 250.7 L1290.4 250.9 L1288.3 251.8 L1287.0 253.6 L1285.7 255.5 L1284.3 258.4 L1283.0 258.7 L1281.7 260.9 L1279.6 262.2 L1277.5 265.7 L1275.4 266.3 L1273.3 268.6 L1272.0 269.1 L1270.7 271.4 L1269.3 275.0 L1268.0 274.8 L1266.7 276.6 L1264.6 278.4 L1262.5 278.3 L1260.4 276.7 L1258.3 276.6 L1256.3 279.8 L1254.3 278.7 L1252.3 281.2 L1250.3 283.8 L1248.3 284.6 L1246.6 287.0 L1245.0 288.3 L1243.3 288.7 L1241.7 291.0 L1240.0 292.6 L1237.8 292.2 L1235.5 291.2 L1233.3 291.7 L1232.2 293.4 L1231.1 295.8 L1230.0 297.9 L1227.8 298.0 L1225.5 296.0 L1223.3 296.9 L1222.2 298.6 L1221.1 299.7 L1220.0 302.0 L1218.9 305.7 L1217.8 308.1 L1216.7 308.2 L1215.3 311.0 L1213.9 312.3 L1212.5 313.8 L1211.1 317.3 L1209.7 320.0 L1208.3 321.0 L1206.1 319.2 L1203.9 320.2 L1201.7 320.6 L1199.5 318.1 L1197.2 318.6 L1195.0 317.4 L1192.9 317.1 L1190.8 320.0 L1188.8 319.2 L1186.7 320.3 L1184.6 323.1 L1182.5 324.4 L1180.4 325.4 L1178.3 328.2 L1177.5 330.5 L1176.8 333.1 L1176.0 335.4 L1173.9 336.4 L1171.8 335.4 L1169.7 337.9 L1167.5 339.4 L1165.4 340.3 L1163.3 339.8 L1161.3 342.5 L1159.3 343.8 L1157.3 343.4 L1155.3 345.2 L1153.3 346.2 L1151.3 346.2 L1149.3 349.5 L1147.3 347.9 L1145.3 349.1 L1143.3 350.2 L1141.3 353.5 L1139.3 353.3 L1137.3 355.0 L1135.3 357.6 L1133.3 359.3 L1131.3 362.0 L1129.3 362.6 L1127.3 363.4 L1125.3 365.6 L1123.3 367.8 L1121.2 367.4 L1119.2 370.4 L1117.1 372.5 L1115.0 373.0 L1112.8 374.7 L1110.5 374.5 L1108.3 377.6 L1106.2 377.0 L1104.2 378.5 L1102.1 377.3 L1100.0 380.0 L1097.9 381.2 L1095.8 382.1 L1093.8 384.8 L1091.7 384.7 L1090.0 387.9 L1088.3 388.4 L1086.7 392.8 L1085.0 394.1 L1083.3 396.7 L1081.6 398.4 L1080.0 398.7 L1078.3 401.1 L1076.7 403.0 L1075.0 406.2 L1073.3 408.1 L1071.7 409.1 L1070.0 411.6 L1068.4 413.1 L1066.7 414.8 L1064.5 415.5 L1062.2 416.2 L1060.0 420.3 L1058.3 421.0 L1056.7 422.5 L1055.0 426.1 L1053.3 428.1 L1051.6 429.6 L1050.0 430.3 L1048.3 433.3 L1046.7 434.9 L1045.0 435.2 L1044.0 437.7 L1043.0 438.3 L1042.0 441.7 L1041.0 444.7 L1040.0 444.7 L1038.3 446.3 L1036.7 450.3 L1035.0 450.5 L1033.3 453.3 L1031.6 455.7 L1030.0 457.3 L1028.3 458.4 L1026.7 460.7 L1025.0 461.3 L1022.8 464.6 L1020.5 464.0 L1018.3 464.7 L1016.1 464.1 L1013.9 466.5 L1011.7 466.9 L1009.5 466.1 L1007.2 467.5 L1005.0 468.0 L1003.3 471.7 L1001.7 474.2 L1000.0 475.6 L998.4 478.4 L996.7 480.1 L994.5 481.0 L992.2 480.0 L990.0 482.7 L988.3 484.8 L986.7 485.6 L985.0 486.2 L983.3 490.4 L981.7 491.6 L980.0 493.4 L978.0 493.6 L976.0 495.2 L974.0 496.8 L972.0 498.6 L970.0 501.0 L968.0 502.7 L966.1 503.5 L964.1 505.1 L962.2 506.7 L960.2 507.7 L958.3 509.3 L956.3 512.1 L954.3 511.9 L952.3 514.2 L950.3 517.3 L948.3 517.0 L946.3 519.9 L944.3 520.9 L942.3 522.1 L940.3 521.4 L938.3 522.8 L936.6 525.4 L935.0 526.3 L933.3 530.0 L931.6 532.3 L930.0 534.2 L928.3 533.5 L925.8 533.2 L923.3 531.3 L921.3 534.6 L919.3 536.3 L917.3 535.7 L915.3 537.7 L913.3 538.9 L911.4 540.8 L909.4 541.8 L907.5 543.7 L905.6 543.8 L903.6 544.0 L901.7 547.5 L899.9 547.4 L898.0 549.0 L896.2 550.9 L894.4 551.5 L892.5 554.2 L890.7 554.9 L888.9 556.7 L887.0 559.1 L885.2 559.5 L883.3 561.8 L881.5 561.5 L879.7 563.6 L877.8 564.9 L876.0 566.7 L874.5 569.9 L872.9 571.2 L871.4 573.3 L869.8 574.3 L868.3 578.2 L866.6 579.4 L865.0 579.8 L863.3 581.3 L861.7 583.2 L860.0 585.9 L857.9 587.3 L855.9 587.9 L853.8 588.4 L851.7 588.0 L849.8 590.0 L847.8 590.3 L845.9 593.4 L843.9 593.8 L842.0 596.8 L840.0 594.9 L838.0 598.3 L836.0 599.8 L834.0 600.9 L832.0 603.2 L830.0 605.3 L828.3 605.9 L826.7 606.3 L825.0 608.8 L823.3 611.1 L821.7 611.2 L820.0 614.2 L818.0 615.8 L816.0 616.6 L814.0 618.7 L812.0 618.3 L810.0 621.9 L808.3 622.3 L806.7 624.5 L805.0 627.8 L803.4 627.8 L801.7 630.8 L800.0 632.2 L798.3 635.1 L796.7 637.7 L795.0 639.5 L793.3 642.1 L791.4 643.4 L789.4 643.1 L787.5 646.4 L785.6 646.3 L783.6 648.8 L781.7 650.6 L779.8 651.0 L777.8 652.3 L775.9 655.5 L773.9 655.5 L772.0 658.3 L770.0 658.4 L768.1 660.0 L766.2 663.3 L764.3 662.4 L762.4 664.5 L760.5 666.9 L758.6 668.4 L756.7 670.2 L754.8 670.8 L752.9 672.0 L751.0 671.5 L749.0 673.2 L747.1 673.9 L745.2 676.0 L743.3 678.1 L741.4 677.8 L739.5 679.6 L737.6 681.2 L735.7 682.5 L733.8 685.5 L731.9 685.4 L730.0 688.5 L728.0 688.7 L726.1 689.1 L724.1 693.2 L722.2 692.7 L720.2 694.3 L718.3 697.7 L716.8 698.6 L715.4 701.4 L713.9 701.3 L712.5 704.3 L711.0 707.3 L708.9 707.6 L706.9 708.9 L704.8 710.2 L702.7 711.8 L700.7 715.4 L698.7 715.9 L696.7 716.7 L694.7 717.2 L692.7 720.7 L691.0 720.9 L689.4 723.6 L687.7 725.7 L686.0 726.6 L683.9 728.6 L681.9 729.7 L679.8 730.0 L677.7 730.0 L676.0 731.8 L674.4 735.1 L672.7 736.2 L671.0 736.9 L668.8 737.4 L666.5 739.1 L664.3 738.3 L662.6 741.5 L661.0 742.8 L659.3 743.6 L657.7 746.9 L656.0 748.7 L654.0 750.2 L652.1 749.6 L650.1 751.0 L648.2 754.8 L646.2 756.5 L644.3 757.0 L642.2 757.2 L640.1 759.2 L638.1 759.1 L636.0 758.3 L634.9 760.2 L633.8 762.9 L632.7 766.6 L631.6 768.6 L630.4 770.2 L629.3 772.2 L628.2 774.2 L627.1 776.9 L626.0 778.0 L624.3 778.9 L622.7 780.7 L621.0 782.9 L619.3 785.9 L617.7 787.0 L616.0 789.0 L613.9 789.9 L611.9 793.7 L609.8 794.0 L607.7 795.6 L605.7 795.5 L603.7 796.2 L601.7 797.8 L599.7 799.2 L597.7 799.8 L596.0 801.7 L594.4 803.6 L592.7 806.1 L591.0 806.7 L589.3 808.1 L587.7 809.5 L586.0 812.4 L584.0 812.4 L582.0 811.7 L580.0 812.9 L578.0 815.4 L576.0 817.4 L573.9 818.9 L571.9 819.2 L569.8 821.4 L567.7 822.8 L566.3 823.5 L564.8 825.6 L563.4 827.5 L562.0 829.0 L560.6 833.3 L559.1 833.8 L557.7 834.8 L556.0 837.3 L554.3 839.8 L552.7 842.4 L551.0 845.1 L549.3 847.2 L547.4 849.0 L545.4 848.7 L543.5 850.6 L541.6 853.4 L539.6 855.8 L537.7 856.8 L535.7 858.4 L533.7 859.0 L531.7 860.1 L529.7 860.5 L527.7 863.9 L526.5 865.4 L524.9 865.4 L523.2 869.3 L521.6 869.4 L520.0 871.5 L518.4 873.0 L516.8 877.1 L515.1 877.3 L513.5 880.6 L512.0 879.9 L510.4 882.6 L508.9 885.1 L507.3 887.8 L505.8 888.2 L504.2 889.1 L502.7 891.3 L501.1 893.8 L499.6 894.9 L498.0 896.6 L496.5 898.3 L494.9 900.3 L493.4 904.0 L491.7 904.7 L490.0 907.4 L488.4 909.3 L486.7 911.3 L485.0 911.7 L483.4 913.0 L481.7 915.6 L480.0 917.1 L478.3 920.1 L476.6 921.0 L475.0 923.3 L473.3 925.2 L471.6 925.1 L469.9 928.0 L468.1 928.7 L466.4 931.2 L464.7 934.7 L463.0 936.4 L461.3 936.7 L459.6 939.7 L457.9 940.4 L456.1 942.6 L454.4 943.7 L452.7 946.2Z" fill="#ffa500" stroke="none"/>
<path d="M452.7 943.4 L465.0 305.0 L469.6 280.0 L472.7 254.1 L475.9 230.3 L478.3 211.3 L482.2 205.8 L488.5 205.0 L490.1 192.3 L501.2 192.3 L502.8 182.8 L511.5 182.8 L512.3 167.0 L524.1 167.0 L526.5 154.4 L561.3 154.4 L562.9 148.4 L730.0 148.4 L749.5 147.5 L749.5 141.7 L1046.0 141.7 L1046.0 132.5 L1135.5 132.5 L1135.5 123.0 L1300.5 123.0 L1300.5 116.7 L1467.3 116.7 L1467.3 111.5 L1519.3 111.5" stroke="#0000ff" stroke-width="2.7"/>
<path d="M452.7 943.4 L459.2 939.9 L464.3 939.4 L468.8 934.6 L481.3 934.9 L496.4 934.3 L498.4 924.3 L501.4 919.3 L504.4 907.2 L508.0 903.2 L509.0 890.1 L510.5 878.1 L510.5 863.0 L511.0 862.0 L513.5 860.3 L515.2 843.7 L517.7 825.3 L521.0 808.7 L526.0 798.7 L534.3 792.8 L544.3 793.3 L549.3 792.8 L553.5 785.3 L557.7 778.7 L564.3 775.3 L577.7 776.2 L594.3 777.0 L597.7 775.3 L600.2 762.0 L602.7 750.3 L607.7 745.3 L613.5 742.0 L617.7 732.8 L621.0 728.7 L623.5 718.7 L626.0 702.0 L632.5 691.7 L635.0 671.7 L637.5 651.7 L640.0 635.0 L642.5 618.3 L645.8 603.3 L650.0 586.7 L652.5 576.7 L656.7 575.0 L660.8 566.7 L664.2 565.0 L667.5 551.7 L671.7 547.5 L675.0 533.3 L678.3 524.2 L683.3 522.5 L685.8 515.0 L687.5 501.7 L689.2 490.0 L692.5 483.3 L694.3 467.3 L700.2 457.3 L702.7 440.7 L704.3 418.0 L705.0 414.0 L706.7 383.3 L708.3 366.7 L710.0 341.7 L711.7 323.3 L715.0 306.7 L719.2 298.3 L725.0 301.7 L728.3 290.0 L731.7 270.0 L735.8 265.0 L739.2 266.7 L743.3 286.7 L746.7 280.0 L751.7 280.0 L756.7 276.7 L761.7 268.3 L766.7 262.5 L770.8 266.7 L775.8 267.5 L781.7 261.7 L787.5 260.8 L790.0 248.3 L793.3 235.8 L796.7 243.3 L799.2 260.8 L804.2 257.5 L807.5 254.2 L810.8 238.3 L814.2 228.3 L819.2 218.3 L820.8 200.0 L822.8 173.3 L825.3 155.0 L828.7 143.3 L832.0 140.0 L837.0 143.3 L840.3 133.3 L843.7 123.3 L847.0 113.3 L850.3 102.5 L858.7 97.5 L860.3 103.3 L868.7 101.7 L872.8 105.0 L874.5 125.0 L877.8 130.0 L879.5 140.0 L881.2 158.3 L884.5 162.5 L889.5 165.0 L893.7 171.7 L900.3 180.0 L904.5 185.0 L910.3 182.5 L912.0 175.0 L917.0 179.2 L920.3 183.3 L927.0 182.5 L935.3 184.2 L940.3 176.7 L943.7 170.0 L948.7 163.3 L952.8 158.3 L954.5 143.3 L960.3 130.0 L965.3 121.7 L968.7 113.3 L972.0 115.0 L977.0 108.3 L983.7 101.7 L989.5 95.0 L993.7 100.0 L1000.3 97.5 L1008.7 94.2 L1013.7 98.3 L1017.8 106.7 L1025.3 110.0 L1028.7 116.7 L1031.2 130.8 L1033.7 120.0 L1037.0 128.3 L1043.0 125.8 L1044.7 130.0 L1046.3 136.7 L1050.5 135.8 L1053.0 126.7 L1058.0 122.5 L1064.7 120.8 L1071.3 121.7 L1078.8 122.5 L1082.2 128.3 L1086.3 121.7 L1091.3 116.7 L1096.3 115.8 L1101.3 118.3 L1104.7 126.7 L1109.7 129.2 L1116.3 129.2 L1121.3 133.3 L1124.7 133.3 L1127.2 140.0 L1131.3 145.0 L1138.0 143.3 L1143.0 138.3 L1148.0 135.0 L1158.0 134.2 L1166.3 134.2 L1173.0 135.0 L1179.7 135.8 L1186.3 132.5 L1193.0 131.7 L1199.7 130.0 L1203.0 127.5 L1209.7 127.5 L1216.3 124.2 L1224.7 124.2 L1228.0 120.8 L1231.3 111.7 L1234.7 114.2 L1239.7 110.0 L1244.7 110.0 L1249.7 112.5 L1258.0 114.2 L1264.7 117.5 L1271.3 120.8 L1276.3 120.8 L1283.0 119.2 L1288.0 117.5 L1290.5 113.3 L1298.0 113.3 L1309.7 113.7 L1326.3 113.3 L1336.3 115.0 L1348.0 115.0 L1354.7 114.2 L1359.0 110.0 L1359.0 110.8 L1372.3 110.8 L1375.7 103.3 L1379.0 95.0 L1381.5 97.5 L1384.0 90.0 L1386.5 90.0 L1389.8 94.2 L1394.0 98.3 L1409.0 98.3 L1425.7 98.3 L1429.0 95.8 L1442.3 95.8 L1452.3 94.2 L1462.3 93.3 L1467.3 97.5 L1472.3 95.8 L1475.7 97.5 L1479.0 100.8 L1482.3 95.8 L1487.3 95.0 L1490.7 91.7 L1494.0 90.0 L1495.7 86.7 L1504.0 86.7 L1507.3 82.5 L1510.7 85.0 L1519.3 85.0" stroke="#a020f0" stroke-width="2.4"/>
<path d="M452.7 942.3 L454.9 941.4 L457.0 938.6 L459.2 938.7 L461.8 939.3 L464.3 936.7 L465.8 934.7 L467.3 934.4 L468.8 933.2 L471.3 931.9 L473.8 932.8 L476.3 933.1 L478.8 933.8 L481.3 934.2 L483.8 933.9 L486.3 931.5 L488.9 934.2 L491.4 932.3 L493.9 931.4 L496.4 932.9 L496.9 929.7 L497.4 927.3 L497.9 925.5 L498.4 923.7 L499.9 917.8 L501.4 915.0 L502.0 916.2 L502.6 913.9 L503.2 911.7 L503.8 907.8 L504.4 906.8 L506.2 904.1 L508.0 901.1 L508.2 897.8 L508.4 897.4 L508.6 894.5 L508.8 891.6 L509.0 889.5 L509.3 886.2 L509.6 883.7 L509.9 881.0 L510.2 877.5 L510.5 875.2 L510.5 874.2 L510.5 870.8 L510.5 868.9 L510.5 865.0 L510.5 862.8 L510.5 860.6 L511.0 859.5 L513.5 857.0 L513.7 855.1 L514.0 854.9 L514.2 852.1 L514.5 849.7 L514.7 845.6 L515.0 843.5 L515.2 840.7 L515.5 839.7 L515.8 836.3 L516.1 835.6 L516.5 831.7 L516.8 827.9 L517.1 829.2 L517.4 825.8 L517.7 823.2 L518.2 820.3 L518.6 818.2 L519.1 817.6 L519.6 813.0 L520.1 811.4 L520.5 809.0 L521.0 806.9 L522.0 804.0 L523.0 801.6 L524.0 800.4 L525.0 800.2 L526.0 796.0 L528.1 795.2 L530.1 795.0 L532.2 793.4 L534.3 789.6 L536.8 792.4 L539.3 791.1 L541.8 791.2 L544.3 790.9 L546.8 792.6 L549.3 790.2 L550.3 789.4 L551.4 787.1 L552.5 786.6 L553.5 782.1 L554.9 781.9 L556.3 778.5 L557.7 777.7 L559.9 777.0 L562.1 774.8 L564.3 774.3 L566.5 772.9 L568.8 773.6 L571.0 773.7 L573.2 773.1 L575.5 774.7 L577.7 774.7 L580.1 773.7 L582.4 774.0 L584.8 774.6 L587.2 773.0 L589.6 774.3 L591.9 774.3 L594.3 775.5 L596.0 774.6 L597.7 772.8 L598.1 772.4 L598.5 768.8 L599.0 766.8 L599.4 765.4 L599.8 758.6 L600.2 761.1 L600.7 758.9 L601.2 756.1 L601.7 753.2 L602.2 752.0 L602.7 748.2 L604.4 746.5 L606.0 743.7 L607.7 744.5 L609.6 741.5 L611.6 740.6 L613.5 741.0 L614.5 739.1 L615.6 734.7 L616.7 734.1 L617.7 730.7 L619.4 729.2 L621.0 727.6 L621.6 725.7 L622.2 721.5 L622.9 719.2 L623.5 717.0 L623.9 713.8 L624.2 711.1 L624.6 710.8 L624.9 706.8 L625.3 705.9 L625.6 703.9 L626.0 699.7 L627.3 699.0 L628.6 696.0 L629.9 694.5 L631.2 692.2 L632.5 691.2 L632.8 686.9 L633.1 685.8 L633.4 683.2 L633.8 676.3 L634.1 678.3 L634.4 674.2 L634.7 672.6 L635.0 670.1 L635.3 666.2 L635.6 665.9 L635.9 663.3 L636.2 658.5 L636.6 657.8 L636.9 654.3 L637.2 651.4 L637.5 649.5 L637.9 647.5 L638.2 643.9 L638.6 643.9 L638.9 640.7 L639.3 637.8 L639.6 636.0 L640.0 631.8 L640.4 629.7 L640.7 629.7 L641.1 624.8 L641.4 625.1 L641.8 620.0 L642.1 619.9 L642.5 618.0 L643.0 613.2 L643.6 611.4 L644.1 608.7 L644.7 607.1 L645.2 602.8 L645.8 600.4 L646.4 598.3 L647.0 596.7 L647.6 595.4 L648.2 592.9 L648.8 588.9 L649.4 585.5 L650.0 584.9 L650.6 582.9 L651.2 580.1 L651.9 576.5 L652.5 573.5 L654.6 572.8 L656.7 572.5 L657.7 572.3 L658.8 569.1 L659.8 568.0 L660.8 564.8 L662.5 563.6 L664.2 563.0 L664.8 562.4 L665.3 558.4 L665.9 557.8 L666.4 553.1 L667.0 550.8 L667.5 549.6 L669.6 548.1 L671.7 546.5 L672.2 542.3 L672.8 541.5 L673.4 538.4 L673.9 536.2 L674.5 533.1 L675.0 530.5 L675.8 527.4 L676.6 525.7 L677.5 524.9 L678.3 521.8 L680.8 522.9 L683.3 521.5 L684.1 517.7 L685.0 514.6 L685.8 512.8 L686.1 509.8 L686.4 509.3 L686.6 506.1 L686.9 503.7 L687.2 498.0 L687.5 501.1 L687.8 498.4 L688.2 495.3 L688.5 492.7 L688.9 489.1 L689.2 487.9 L690.3 485.8 L691.4 483.5 L692.5 481.3 L692.8 477.7 L693.0 477.7 L693.3 476.1 L693.5 469.5 L693.8 471.4 L694.0 466.4 L694.3 465.8 L695.5 463.8 L696.7 460.0 L697.8 458.2 L699.0 458.7 L700.2 454.1 L700.6 454.3 L700.9 449.6 L701.3 445.9 L701.6 445.8 L702.0 443.7 L702.3 441.9 L702.7 438.5 L702.9 435.0 L703.1 434.3 L703.2 431.3 L703.4 429.7 L703.6 427.0 L703.8 423.1 L703.9 422.5 L704.1 418.6 L704.3 417.3 L704.6 415.4 L705.0 410.8 L705.1 410.8 L705.3 408.0 L705.4 403.7 L705.5 401.8 L705.7 401.0 L705.8 399.0 L705.9 394.3 L706.0 393.4 L706.2 389.8 L706.3 389.7 L706.4 386.2 L706.6 383.4 L706.7 380.5 L706.9 380.6 L707.2 376.0 L707.4 375.3 L707.6 370.9 L707.8 370.0 L708.1 367.7 L708.3 365.3 L708.5 363.5 L708.6 359.1 L708.8 357.1 L709.0 354.6 L709.1 352.4 L709.3 347.8 L709.5 348.6 L709.7 346.3 L709.8 342.2 L710.0 340.4 L710.2 338.2 L710.4 332.4 L710.6 331.8 L710.9 330.2 L711.1 329.2 L711.3 327.5 L711.5 323.8 L711.7 320.8 L712.2 317.9 L712.6 316.3 L713.1 313.7 L713.6 313.4 L714.1 309.2 L714.5 307.1 L715.0 304.0 L716.0 302.8 L717.1 299.2 L718.2 298.0 L719.2 295.1 L721.1 297.5 L723.1 298.9 L725.0 299.0 L725.7 298.7 L726.3 294.9 L727.0 292.9 L727.6 291.6 L728.3 289.3 L728.7 286.4 L729.1 282.2 L729.6 279.5 L730.0 279.6 L730.4 276.9 L730.9 272.7 L731.3 270.2 L731.7 266.9 L733.1 266.7 L734.4 265.4 L735.8 259.5 L737.5 263.3 L739.2 265.2 L739.7 266.0 L740.1 270.7 L740.6 270.3 L741.0 275.1 L741.5 275.3 L741.9 279.4 L742.4 280.6 L742.8 282.2 L743.3 285.1 L744.4 282.6 L745.6 279.5 L746.7 278.5 L749.2 278.0 L751.7 278.1 L754.2 275.2 L756.7 274.9 L758.0 271.4 L759.2 269.7 L760.5 268.9 L761.7 265.7 L763.4 265.8 L765.0 262.4 L766.7 259.3 L768.8 263.3 L770.8 263.6 L773.3 264.4 L775.8 265.0 L777.8 260.1 L779.7 262.6 L781.7 260.5 L784.6 259.9 L787.5 260.3 L788.0 256.7 L788.5 254.9 L789.0 251.4 L789.5 249.4 L790.0 245.9 L790.7 245.0 L791.3 241.9 L792.0 240.1 L792.6 237.2 L793.3 233.1 L794.4 235.9 L795.6 238.9 L796.7 240.5 L797.1 242.9 L797.4 246.7 L797.8 248.4 L798.1 250.5 L798.5 253.4 L798.8 256.4 L799.2 257.8 L801.7 257.5 L804.2 256.0 L805.9 253.5 L807.5 253.6 L808.0 249.2 L808.4 246.5 L808.9 245.1 L809.4 243.9 L809.9 242.2 L810.3 237.9 L810.8 237.9 L811.6 232.8 L812.5 230.9 L813.4 228.7 L814.2 225.8 L815.2 225.5 L816.2 222.0 L817.2 219.1 L818.2 217.1 L819.2 215.3 L819.4 214.0 L819.6 210.6 L819.8 210.9 L820.0 206.3 L820.2 205.5 L820.4 203.3 L820.6 200.0 L820.8 196.3 L821.0 195.3 L821.2 192.8 L821.3 187.2 L821.5 189.1 L821.7 187.5 L821.9 183.0 L822.1 182.2 L822.3 180.2 L822.4 177.8 L822.6 174.7 L822.8 170.8 L823.1 169.5 L823.4 166.0 L823.7 163.3 L824.0 163.1 L824.4 160.6 L824.7 158.9 L825.0 154.8 L825.3 154.3 L826.0 149.8 L826.7 147.6 L827.3 146.0 L828.0 142.4 L828.7 140.3 L830.4 139.3 L832.0 139.0 L834.5 138.7 L837.0 142.3 L837.8 137.8 L838.6 137.8 L839.5 134.4 L840.3 131.4 L841.1 129.0 L842.0 126.6 L842.9 123.2 L843.7 120.4 L844.5 119.9 L845.4 116.1 L846.2 115.4 L847.0 112.1 L847.7 108.7 L848.3 106.6 L849.0 104.7 L849.6 103.1 L850.3 100.3 L852.4 100.2 L854.5 98.6 L856.6 95.9 L858.7 96.9 L859.2 96.7 L859.8 100.1 L860.3 102.2 L862.4 101.7 L864.5 101.7 L866.6 99.5 L868.7 101.3 L870.8 101.5 L872.8 103.3 L873.0 105.4 L873.2 108.1 L873.4 111.6 L873.6 113.4 L873.9 116.1 L874.1 119.0 L874.3 122.0 L874.5 123.0 L876.1 127.1 L877.8 126.3 L878.2 131.8 L878.6 131.5 L879.1 135.4 L879.5 136.1 L879.7 141.5 L879.9 142.5 L880.1 144.4 L880.4 147.0 L880.6 149.6 L880.8 153.3 L881.0 154.8 L881.2 157.4 L882.9 157.8 L884.5 157.7 L887.0 161.6 L889.5 164.3 L890.9 162.6 L892.3 168.6 L893.7 169.9 L895.4 172.8 L897.0 174.5 L898.6 176.4 L900.3 177.0 L901.7 179.9 L903.1 181.2 L904.5 183.3 L906.4 182.3 L908.4 183.0 L910.3 179.6 L910.9 177.2 L911.4 176.4 L912.0 174.7 L913.7 174.6 L915.3 174.5 L917.0 176.0 L918.6 180.6 L920.3 182.6 L922.5 180.3 L924.8 179.7 L927.0 181.7 L929.1 180.5 L931.1 182.2 L933.2 181.2 L935.3 181.2 L936.5 179.7 L937.8 175.7 L939.0 173.5 L940.3 175.5 L941.4 171.8 L942.6 171.0 L943.7 168.7 L945.4 164.6 L947.0 164.3 L948.7 161.2 L950.1 156.8 L951.4 158.7 L952.8 156.0 L953.1 153.4 L953.4 151.4 L953.6 147.8 L953.9 147.9 L954.2 144.3 L954.5 141.4 L955.5 138.8 L956.4 136.6 L957.4 134.7 L958.4 131.6 L959.3 126.7 L960.3 127.8 L961.5 126.0 L962.8 123.0 L964.0 121.4 L965.3 119.8 L966.1 116.7 L967.0 116.1 L967.9 112.3 L968.7 111.9 L970.4 112.6 L972.0 113.4 L973.7 111.1 L975.3 109.1 L977.0 105.3 L978.7 105.2 L980.4 102.4 L982.0 102.4 L983.7 98.2 L985.2 98.7 L986.6 97.4 L988.0 95.1 L989.5 94.4 L990.9 94.0 L992.3 98.0 L993.7 98.8 L995.9 98.8 L998.1 97.0 L1000.3 96.6 L1002.4 95.9 L1004.5 93.6 L1006.6 92.5 L1008.7 91.1 L1010.4 94.8 L1012.0 94.8 L1013.7 95.3 L1014.7 97.2 L1015.8 100.7 L1016.8 101.2 L1017.8 105.8 L1020.3 106.5 L1022.8 106.8 L1025.3 107.8 L1026.4 109.8 L1027.6 113.8 L1028.7 113.8 L1029.1 117.4 L1029.5 120.6 L1030.0 121.8 L1030.4 125.7 L1030.8 127.1 L1031.2 125.7 L1031.7 125.6 L1032.2 123.8 L1032.7 118.7 L1033.2 119.3 L1033.7 119.1 L1034.5 121.6 L1035.3 120.2 L1036.2 123.3 L1037.0 126.9 L1039.0 125.5 L1041.0 124.2 L1043.0 125.4 L1043.8 127.0 L1044.7 128.7 L1045.2 130.1 L1045.8 133.2 L1046.3 136.0 L1048.4 135.9 L1050.5 133.2 L1051.1 131.9 L1051.8 128.3 L1052.4 126.7 L1053.0 125.5 L1054.7 122.7 L1056.3 122.2 L1058.0 120.2 L1060.2 118.7 L1062.5 118.4 L1064.7 119.9 L1066.9 119.6 L1069.1 118.5 L1071.3 119.8 L1073.8 119.5 L1076.3 120.9 L1078.8 119.7 L1079.9 122.8 L1081.1 125.3 L1082.2 125.2 L1083.6 124.4 L1084.9 123.0 L1086.3 121.0 L1088.0 117.0 L1089.6 116.6 L1091.3 115.7 L1093.8 115.4 L1096.3 114.7 L1098.8 116.2 L1101.3 113.9 L1102.2 118.7 L1103.0 120.6 L1103.8 122.4 L1104.7 125.9 L1107.2 126.3 L1109.7 126.2 L1111.9 128.0 L1114.1 127.4 L1116.3 128.1 L1118.0 128.3 L1119.6 131.2 L1121.3 131.6 L1124.7 131.0 L1125.5 133.7 L1126.4 134.0 L1127.2 137.1 L1128.6 139.1 L1129.9 142.9 L1131.3 142.5 L1133.5 143.3 L1135.8 140.7 L1138.0 141.2 L1139.7 138.7 L1141.3 136.9 L1143.0 137.4 L1145.5 135.0 L1148.0 133.0 L1150.5 132.9 L1153.0 134.1 L1155.5 133.2 L1158.0 133.6 L1160.8 132.3 L1163.5 133.6 L1166.3 131.0 L1168.5 131.6 L1170.8 134.4 L1173.0 132.0 L1175.2 133.2 L1177.5 134.2 L1179.7 132.1 L1181.9 131.9 L1184.1 132.5 L1186.3 131.5 L1188.5 129.1 L1190.8 131.2 L1193.0 130.8 L1195.2 130.2 L1197.5 128.3 L1199.7 129.0 L1201.3 127.4 L1203.0 127.0 L1205.2 125.2 L1207.5 125.4 L1209.7 126.1 L1211.9 123.5 L1214.1 122.1 L1216.3 123.2 L1218.4 121.8 L1220.5 121.8 L1222.6 122.1 L1224.7 122.1 L1226.3 120.9 L1228.0 119.5 L1228.8 117.6 L1229.7 115.2 L1230.5 111.7 L1231.3 105.6 L1233.0 109.2 L1234.7 113.4 L1236.4 111.2 L1238.0 110.5 L1239.7 109.0 L1242.2 108.0 L1244.7 107.6 L1247.2 106.5 L1249.7 110.1 L1251.8 112.2 L1253.8 111.1 L1255.9 110.9 L1258.0 112.5 L1260.2 114.3 L1262.5 115.1 L1264.7 116.1 L1266.9 115.4 L1269.1 118.6 L1271.3 119.3 L1273.8 120.1 L1276.3 118.5 L1278.5 117.6 L1280.8 119.1 L1283.0 117.9 L1285.5 117.8 L1288.0 116.5 L1289.2 113.0 L1290.5 112.0 L1293.0 110.1 L1295.5 110.7 L1298.0 110.5 L1300.3 110.5 L1302.7 110.4 L1305.0 111.2 L1307.4 111.9 L1309.7 110.7 L1312.1 112.2 L1314.4 113.3 L1316.8 111.0 L1319.2 109.2 L1321.6 110.6 L1323.9 111.2 L1326.3 112.7 L1328.8 113.0 L1331.3 111.1 L1333.8 114.2 L1336.3 112.4 L1338.6 112.2 L1341.0 111.3 L1343.3 114.5 L1345.7 114.6 L1348.0 112.9 L1350.2 114.4 L1352.5 111.6 L1354.7 112.8 L1356.1 110.9 L1357.6 110.7 L1359.0 107.2 L1359.0 109.1 L1361.2 107.6 L1363.4 107.8 L1365.7 108.4 L1367.9 109.9 L1370.1 108.5 L1372.3 108.0 L1373.4 106.3 L1374.6 102.6 L1375.7 103.0 L1376.5 100.2 L1377.3 96.2 L1378.2 95.2 L1379.0 92.6 L1381.5 96.8 L1382.3 91.9 L1383.2 90.1 L1384.0 87.5 L1386.5 87.2 L1388.2 88.8 L1389.8 92.2 L1391.9 93.1 L1394.0 97.8 L1396.5 95.5 L1399.0 95.3 L1401.5 97.3 L1404.0 97.1 L1406.5 96.9 L1409.0 96.6 L1411.4 97.8 L1413.8 96.9 L1416.2 96.3 L1418.5 97.1 L1420.9 95.5 L1423.3 97.1 L1425.7 95.2 L1427.3 95.9 L1429.0 94.8 L1431.2 91.1 L1433.4 95.5 L1435.7 94.4 L1437.9 95.4 L1440.1 95.4 L1442.3 94.0 L1444.8 94.9 L1447.3 93.4 L1449.8 94.2 L1452.3 93.7 L1454.8 91.7 L1457.3 93.4 L1459.8 90.4 L1462.3 91.7 L1464.0 94.3 L1465.6 93.3 L1467.3 97.0 L1469.8 95.0 L1472.3 93.5 L1474.0 94.9 L1475.7 96.6 L1477.3 97.6 L1479.0 97.8 L1480.7 96.7 L1482.3 94.6 L1484.8 92.1 L1487.3 92.7 L1489.0 92.8 L1490.7 88.9 L1492.3 88.7 L1494.0 87.0 L1494.8 87.2 L1495.7 84.7 L1498.5 85.0 L1501.2 83.5 L1504.0 86.3 L1505.7 83.8 L1507.3 79.8 L1509.0 80.5 L1510.7 82.5 L1512.8 82.6 L1515.0 82.3 L1517.2 81.7 L1519.3 83.9 L1519.3 85.5 L1517.2 88.2 L1515.0 85.5 L1512.8 85.4 L1510.7 86.8 L1509.0 85.9 L1507.3 82.9 L1505.7 87.0 L1504.0 88.4 L1501.2 88.0 L1498.5 87.1 L1495.7 87.0 L1494.8 90.8 L1494.0 93.8 L1492.3 93.6 L1490.7 92.1 L1489.0 95.4 L1487.3 95.8 L1484.8 96.2 L1482.3 98.0 L1480.7 101.0 L1479.0 103.2 L1477.3 100.9 L1475.7 99.5 L1474.0 97.8 L1472.3 96.6 L1469.8 97.3 L1467.3 98.3 L1465.6 98.4 L1464.0 95.3 L1462.3 96.0 L1459.8 94.6 L1457.3 95.7 L1454.8 96.9 L1452.3 94.6 L1449.8 97.1 L1447.3 97.6 L1444.8 96.1 L1442.3 96.4 L1440.1 96.8 L1437.9 96.7 L1435.7 98.9 L1433.4 97.0 L1431.2 96.8 L1429.0 96.4 L1427.3 97.9 L1425.7 100.8 L1423.3 101.5 L1420.9 101.4 L1418.5 100.4 L1416.2 99.3 L1413.8 100.4 L1411.4 101.4 L1409.0 99.3 L1406.5 98.9 L1404.0 100.0 L1401.5 98.8 L1399.0 98.7 L1396.5 98.8 L1394.0 99.3 L1391.9 96.8 L1389.8 95.2 L1388.2 92.7 L1386.5 90.6 L1384.0 92.0 L1383.2 93.5 L1382.3 97.0 L1381.5 98.2 L1379.0 96.4 L1378.2 100.2 L1377.3 100.5 L1376.5 101.8 L1375.7 106.2 L1374.6 107.7 L1373.4 109.0 L1372.3 111.7 L1370.1 112.3 L1367.9 113.9 L1365.7 111.2 L1363.4 113.0 L1361.2 113.3 L1359.0 111.6 L1359.0 111.3 L1357.6 112.2 L1356.1 114.0 L1354.7 116.1 L1352.5 117.3 L1350.2 117.8 L1348.0 116.4 L1345.7 115.5 L1343.3 117.5 L1341.0 115.6 L1338.6 117.4 L1336.3 116.9 L1333.8 116.1 L1331.3 114.8 L1328.8 114.9 L1326.3 114.1 L1323.9 114.3 L1321.6 114.5 L1319.2 114.6 L1316.8 116.8 L1314.4 115.1 L1312.1 116.0 L1309.7 116.4 L1307.4 116.3 L1305.0 115.5 L1302.7 115.9 L1300.3 116.4 L1298.0 113.9 L1295.5 114.0 L1293.0 115.8 L1290.5 115.0 L1289.2 117.3 L1288.0 120.0 L1285.5 119.8 L1283.0 120.7 L1280.8 122.7 L1278.5 122.0 L1276.3 123.7 L1273.8 123.9 L1271.3 122.2 L1269.1 120.4 L1266.9 121.3 L1264.7 120.1 L1262.5 116.8 L1260.2 118.3 L1258.0 115.7 L1255.9 115.2 L1253.8 114.9 L1251.8 115.8 L1249.7 115.7 L1247.2 111.9 L1244.7 113.0 L1242.2 112.8 L1239.7 112.5 L1238.0 114.7 L1236.4 115.5 L1234.7 115.0 L1233.0 115.2 L1231.3 113.7 L1230.5 116.7 L1229.7 117.1 L1228.8 120.9 L1228.0 122.3 L1226.3 125.7 L1224.7 126.5 L1222.6 125.9 L1220.5 125.7 L1218.4 126.5 L1216.3 125.3 L1214.1 127.6 L1211.9 129.2 L1209.7 129.4 L1207.5 130.7 L1205.2 130.7 L1203.0 129.4 L1201.3 130.8 L1199.7 130.9 L1197.5 132.2 L1195.2 132.2 L1193.0 132.3 L1190.8 135.3 L1188.5 132.7 L1186.3 135.1 L1184.1 134.0 L1181.9 136.7 L1179.7 136.3 L1177.5 138.1 L1175.2 138.1 L1173.0 135.4 L1170.8 135.8 L1168.5 135.3 L1166.3 135.2 L1163.5 136.4 L1160.8 135.5 L1158.0 134.7 L1155.5 135.1 L1153.0 135.8 L1150.5 135.8 L1148.0 138.0 L1145.5 138.6 L1143.0 139.0 L1141.3 143.1 L1139.7 143.1 L1138.0 146.5 L1135.8 144.8 L1133.5 146.2 L1131.3 148.0 L1129.9 145.4 L1128.6 143.7 L1127.2 142.7 L1126.4 138.9 L1125.5 137.5 L1124.7 133.7 L1121.3 136.0 L1119.6 133.4 L1118.0 133.5 L1116.3 130.2 L1114.1 131.6 L1111.9 131.3 L1109.7 130.6 L1107.2 130.4 L1104.7 127.4 L1103.8 126.9 L1103.0 125.3 L1102.2 121.0 L1101.3 119.5 L1098.8 118.7 L1096.3 117.9 L1093.8 117.9 L1091.3 117.4 L1089.6 121.1 L1088.0 122.1 L1086.3 124.1 L1084.9 126.9 L1083.6 129.3 L1082.2 130.2 L1081.1 129.4 L1079.9 127.0 L1078.8 125.6 L1076.3 124.2 L1073.8 124.4 L1071.3 122.4 L1069.1 123.7 L1066.9 124.1 L1064.7 123.8 L1062.5 122.4 L1060.2 122.7 L1058.0 123.6 L1056.3 125.4 L1054.7 127.3 L1053.0 128.5 L1052.4 130.2 L1051.8 133.0 L1051.1 135.9 L1050.5 138.2 L1048.4 139.0 L1046.3 139.2 L1045.8 135.6 L1045.2 133.9 L1044.7 134.4 L1043.8 130.9 L1043.0 126.7 L1041.0 128.9 L1039.0 129.6 L1037.0 128.8 L1036.2 127.1 L1035.3 125.7 L1034.5 124.5 L1033.7 120.9 L1033.2 125.1 L1032.7 124.7 L1032.2 127.6 L1031.7 129.5 L1031.2 133.1 L1030.8 131.7 L1030.4 127.6 L1030.0 125.8 L1029.5 124.6 L1029.1 122.3 L1028.7 119.7 L1027.6 117.2 L1026.4 113.8 L1025.3 111.4 L1022.8 109.7 L1020.3 111.2 L1017.8 109.9 L1016.8 106.0 L1015.8 105.6 L1014.7 102.6 L1013.7 98.9 L1012.0 99.9 L1010.4 98.1 L1008.7 96.3 L1006.6 95.4 L1004.5 96.6 L1002.4 98.9 L1000.3 98.9 L998.1 101.2 L995.9 101.3 L993.7 102.3 L992.3 101.9 L990.9 97.0 L989.5 97.9 L988.0 99.5 L986.6 100.0 L985.2 102.4 L983.7 103.5 L982.0 104.9 L980.4 106.3 L978.7 108.4 L977.0 110.9 L975.3 112.4 L973.7 115.7 L972.0 115.5 L970.4 114.5 L968.7 115.7 L967.9 117.0 L967.0 117.8 L966.1 121.0 L965.3 124.9 L964.0 125.3 L962.8 127.9 L961.5 129.2 L960.3 130.5 L959.3 133.6 L958.4 136.6 L957.4 139.7 L956.4 142.1 L955.5 144.0 L954.5 145.6 L954.2 147.9 L953.9 151.0 L953.6 153.6 L953.4 153.9 L953.1 159.1 L952.8 161.4 L951.4 162.0 L950.1 162.2 L948.7 165.3 L947.0 168.2 L945.4 168.2 L943.7 170.5 L942.6 175.0 L941.4 175.5 L940.3 179.0 L939.0 179.3 L937.8 182.2 L936.5 183.1 L935.3 187.0 L933.2 186.1 L931.1 184.5 L929.1 184.8 L927.0 184.5 L924.8 186.0 L922.5 184.3 L920.3 184.9 L918.6 183.0 L917.0 181.0 L915.3 180.1 L913.7 179.7 L912.0 176.6 L911.4 178.8 L910.9 182.5 L910.3 184.2 L908.4 185.5 L906.4 187.1 L904.5 187.1 L903.1 183.8 L901.7 184.5 L900.3 182.1 L898.6 179.7 L897.0 178.8 L895.4 174.8 L893.7 174.7 L892.3 172.3 L890.9 168.3 L889.5 166.2 L887.0 164.4 L884.5 163.0 L882.9 162.7 L881.2 160.7 L881.0 156.8 L880.8 154.8 L880.6 153.0 L880.4 152.0 L880.1 147.2 L879.9 145.2 L879.7 144.8 L879.5 142.3 L879.1 138.7 L878.6 137.9 L878.2 134.3 L877.8 132.2 L876.1 128.4 L874.5 127.2 L874.3 123.0 L874.1 122.9 L873.9 118.5 L873.6 117.9 L873.4 114.1 L873.2 113.0 L873.0 107.8 L872.8 107.7 L870.8 105.3 L868.7 102.7 L866.6 105.2 L864.5 104.2 L862.4 105.2 L860.3 105.0 L859.8 104.2 L859.2 102.0 L858.7 99.7 L856.6 100.0 L854.5 101.8 L852.4 103.1 L850.3 105.5 L849.6 106.1 L849.0 108.9 L848.3 111.5 L847.7 112.5 L847.0 115.1 L846.2 116.7 L845.4 121.3 L844.5 122.8 L843.7 126.3 L842.9 128.3 L842.0 129.9 L841.1 134.0 L840.3 134.4 L839.5 138.3 L838.6 141.1 L837.8 141.3 L837.0 144.7 L834.5 144.0 L832.0 141.6 L830.4 142.8 L828.7 143.7 L828.0 147.4 L827.3 150.0 L826.7 150.9 L826.0 155.3 L825.3 155.9 L825.0 158.5 L824.7 162.8 L824.4 164.4 L824.0 166.0 L823.7 168.5 L823.4 169.7 L823.1 173.8 L822.8 174.9 L822.6 178.7 L822.4 180.8 L822.3 181.9 L822.1 185.8 L821.9 187.6 L821.7 189.1 L821.5 191.6 L821.3 193.6 L821.2 197.9 L821.0 199.4 L820.8 201.3 L820.6 204.5 L820.4 207.6 L820.2 209.4 L820.0 211.1 L819.8 213.2 L819.6 214.7 L819.4 218.8 L819.2 220.3 L818.2 223.4 L817.2 224.4 L816.2 225.9 L815.2 229.5 L814.2 230.6 L813.4 232.7 L812.5 235.2 L811.6 238.4 L810.8 241.3 L810.3 241.8 L809.9 244.7 L809.4 247.0 L808.9 250.5 L808.4 252.1 L808.0 252.7 L807.5 255.3 L805.9 257.4 L804.2 259.3 L801.7 260.3 L799.2 261.6 L798.8 261.3 L798.5 258.9 L798.1 255.8 L797.8 252.7 L797.4 251.4 L797.1 248.5 L796.7 244.3 L795.6 242.1 L794.4 239.1 L793.3 237.1 L792.6 239.1 L792.0 243.9 L791.3 244.2 L790.7 248.7 L790.0 249.5 L789.5 252.4 L789.0 256.5 L788.5 258.3 L788.0 261.2 L787.5 262.5 L784.6 263.9 L781.7 263.7 L779.7 266.9 L777.8 268.5 L775.8 268.3 L773.3 267.7 L770.8 267.9 L768.8 266.2 L766.7 265.1 L765.0 267.6 L763.4 269.0 L761.7 271.1 L760.5 273.6 L759.2 273.6 L758.0 276.4 L756.7 277.5 L754.2 281.1 L751.7 281.5 L749.2 281.6 L746.7 282.1 L745.6 283.4 L744.4 285.8 L743.3 288.6 L742.8 287.6 L742.4 284.2 L741.9 282.0 L741.5 279.1 L741.0 278.2 L740.6 274.4 L740.1 273.8 L739.7 271.8 L739.2 268.9 L737.5 268.3 L735.8 265.3 L734.4 269.8 L733.1 268.7 L731.7 272.7 L731.3 274.0 L730.9 275.4 L730.4 279.5 L730.0 280.6 L729.6 284.3 L729.1 286.9 L728.7 289.7 L728.3 292.5 L727.6 295.5 L727.0 295.6 L726.3 300.7 L725.7 300.3 L725.0 303.8 L723.1 302.6 L721.1 300.5 L719.2 298.8 L718.2 301.3 L717.1 303.2 L716.0 306.9 L715.0 309.1 L714.5 310.0 L714.1 313.3 L713.6 315.3 L713.1 317.9 L712.6 319.7 L712.2 323.0 L711.7 325.7 L711.5 328.4 L711.3 328.7 L711.1 333.3 L710.9 334.6 L710.6 336.8 L710.4 338.5 L710.2 340.7 L710.0 343.3 L709.8 345.6 L709.7 349.8 L709.5 351.9 L709.3 354.6 L709.1 356.7 L709.0 358.7 L708.8 359.6 L708.6 364.7 L708.5 365.1 L708.3 368.3 L708.1 371.3 L707.8 373.6 L707.6 376.7 L707.4 377.7 L707.2 379.3 L706.9 383.1 L706.7 386.2 L706.6 387.8 L706.4 390.5 L706.3 392.4 L706.2 396.0 L706.0 396.5 L705.9 399.7 L705.8 400.6 L705.7 404.2 L705.5 407.2 L705.4 409.4 L705.3 411.0 L705.1 414.0 L705.0 415.9 L704.6 416.3 L704.3 419.0 L704.1 422.2 L703.9 423.4 L703.8 426.8 L703.6 431.2 L703.4 433.1 L703.2 433.8 L703.1 438.8 L702.9 440.9 L702.7 442.1 L702.3 445.6 L702.0 447.2 L701.6 450.1 L701.3 451.6 L700.9 454.2 L700.6 458.2 L700.2 458.0 L699.0 460.4 L697.8 461.7 L696.7 465.7 L695.5 467.2 L694.3 470.5 L694.0 472.0 L693.8 474.8 L693.5 474.5 L693.3 479.2 L693.0 481.1 L692.8 481.6 L692.5 485.1 L691.4 487.9 L690.3 490.7 L689.2 490.8 L688.9 493.6 L688.5 495.6 L688.2 498.6 L687.8 499.8 L687.5 503.7 L687.2 507.0 L686.9 509.1 L686.6 511.3 L686.4 511.4 L686.1 515.4 L685.8 516.7 L685.0 519.3 L684.1 520.5 L683.3 524.1 L680.8 524.3 L678.3 526.1 L677.5 528.1 L676.6 531.1 L675.8 531.8 L675.0 536.6 L674.5 537.5 L673.9 539.4 L673.4 542.5 L672.8 546.1 L672.2 545.9 L671.7 548.3 L669.6 550.9 L667.5 553.0 L667.0 555.0 L666.4 556.7 L665.9 560.5 L665.3 563.7 L664.8 565.8 L664.2 566.3 L662.5 568.0 L660.8 567.1 L659.8 569.4 L658.8 573.5 L657.7 574.4 L656.7 577.0 L654.6 577.7 L652.5 577.0 L651.9 581.6 L651.2 583.7 L650.6 587.1 L650.0 589.7 L649.4 591.3 L648.8 592.6 L648.2 595.4 L647.6 599.3 L647.0 600.1 L646.4 603.7 L645.8 605.8 L645.2 607.5 L644.7 611.3 L644.1 612.3 L643.6 614.9 L643.0 619.0 L642.5 619.8 L642.1 621.7 L641.8 624.6 L641.4 626.0 L641.1 628.9 L640.7 631.0 L640.4 633.7 L640.0 636.4 L639.6 638.3 L639.3 642.7 L638.9 643.9 L638.6 647.0 L638.2 650.0 L637.9 652.4 L637.5 653.1 L637.2 655.6 L636.9 658.4 L636.6 660.7 L636.2 663.4 L635.9 666.0 L635.6 667.3 L635.3 669.8 L635.0 673.9 L634.7 675.4 L634.4 677.7 L634.1 682.3 L633.8 683.9 L633.4 685.6 L633.1 687.3 L632.8 690.2 L632.5 692.5 L631.2 696.8 L629.9 698.5 L628.6 701.0 L627.3 700.6 L626.0 703.6 L625.6 705.6 L625.3 707.7 L624.9 710.3 L624.6 713.6 L624.2 716.9 L623.9 717.6 L623.5 721.1 L622.9 724.1 L622.2 726.0 L621.6 729.2 L621.0 729.4 L619.4 731.8 L617.7 733.1 L616.7 736.2 L615.6 738.5 L614.5 741.3 L613.5 743.2 L611.6 744.9 L609.6 746.6 L607.7 746.0 L606.0 747.7 L604.4 751.1 L602.7 752.3 L602.2 755.1 L601.7 757.1 L601.2 759.7 L600.7 763.9 L600.2 764.5 L599.8 765.9 L599.4 767.1 L599.0 769.1 L598.5 772.5 L598.1 776.3 L597.7 777.4 L596.0 776.6 L594.3 779.7 L591.9 778.5 L589.6 778.4 L587.2 779.7 L584.8 777.4 L582.4 779.0 L580.1 777.9 L577.7 779.0 L575.5 777.6 L573.2 779.9 L571.0 778.4 L568.8 777.8 L566.5 778.0 L564.3 777.3 L562.1 779.5 L559.9 778.2 L557.7 782.0 L556.3 782.9 L554.9 783.7 L553.5 786.4 L552.5 789.4 L551.4 792.1 L550.3 792.0 L549.3 793.6 L546.8 795.2 L544.3 796.0 L541.8 796.1 L539.3 795.4 L536.8 794.4 L534.3 793.4 L532.2 797.4 L530.1 797.0 L528.1 799.8 L526.0 802.0 L525.0 802.4 L524.0 805.7 L523.0 806.3 L522.0 808.5 L521.0 811.3 L520.5 811.5 L520.1 814.5 L519.6 818.2 L519.1 821.2 L518.6 822.1 L518.2 824.2 L517.7 827.7 L517.4 830.7 L517.1 832.7 L516.8 835.4 L516.5 835.4 L516.1 839.8 L515.8 839.9 L515.5 842.3 L515.2 845.6 L515.0 847.8 L514.7 851.3 L514.5 852.1 L514.2 856.7 L514.0 856.8 L513.7 860.4 L513.5 863.0 L511.0 862.6 L510.5 863.6 L510.5 867.4 L510.5 868.7 L510.5 872.6 L510.5 876.2 L510.5 878.3 L510.5 878.8 L510.2 883.6 L509.9 883.6 L509.6 888.2 L509.3 888.1 L509.0 892.9 L508.8 894.3 L508.6 897.1 L508.4 902.3 L508.2 901.9 L508.0 904.6 L506.2 907.6 L504.4 909.0 L503.8 911.3 L503.2 913.3 L502.6 916.2 L502.0 918.1 L501.4 919.9 L499.9 923.7 L498.4 925.3 L497.9 928.0 L497.4 931.4 L496.9 934.3 L496.4 936.7 L493.9 937.1 L491.4 935.3 L488.9 935.3 L486.3 936.2 L483.8 936.2 L481.3 936.7 L478.8 936.5 L476.3 935.6 L473.8 937.3 L471.3 937.4 L468.8 936.2 L467.3 938.8 L465.8 940.5 L464.3 942.1 L461.8 940.8 L459.2 941.5 L457.0 941.8 L454.9 943.2 L452.7 945.8Z" fill="#a020f0" stroke="none"/>
<path d="M452.7 943.4 L464.4 330.0 L465.2 276.0 L467.3 234.0 L470.1 206.0 L472.0 196.0 L473.5 187.9 L476.3 184.4 L484.0 182.3 L484.6 182.8 L486.2 161.5 L509.9 161.5 L510.7 157.1 L544.7 157.1 L545.5 149.1 L555.0 149.1 L556.6 144.1 L693.4 144.1 L694.2 137.3 L730.0 137.3 L843.7 137.5 L846.0 132.0 L896.0 132.0 L896.0 127.5 L972.8 127.5 L972.8 120.0 L1072.0 120.0 L1079.0 115.0 L1080.5 108.3 L1519.3 108.3" stroke="#00ff00" stroke-width="3.4"/>
<path d="M1380.6 706.1 H1434.2" stroke="#ff0000" stroke-width="5.0" fill="none"/>
<path d="M1380.6 751.3 H1434.2" stroke="#000000" stroke-width="5.0" fill="none"/>
<path d="M1380.6 796.6 H1434.2" stroke="#ffa500" stroke-width="5.0" fill="none"/>
<path d="M1380.6 842.0 H1434.2" stroke="#0000ff" stroke-width="5.0" fill="none"/>
<path d="M1380.6 887.3 H1434.2" stroke="#a020f0" stroke-width="5.0" fill="none"/>
<path d="M1380.6 932.8 H1434.2" stroke="#00ff00" stroke-width="5.0" fill="none"/>
<path d="M453.0 943.4 L465.2 330 L466.0 276 L468.1 234 L470.9 206.5 L472.9 197" stroke="#000" stroke-width="3.0"/>
</g>
</g>
<g filter="url(#x)">
<rect x="411.0" y="34.3" width="1150.4" height="943.7" fill="none" stroke="#757575" stroke-width="3.4"/>
<g stroke="#2b2b2b" stroke-width="3.2" fill="none">
<path d="M451.2 978.0 H1520.9"/>
<path d="M452.8 978.0 V1001.6" stroke-width="2.5" stroke="#484848"/>
<path d="M666.1 978.0 V1001.6" stroke-width="2.5" stroke="#484848"/>
<path d="M879.4 978.0 V1001.6" stroke-width="2.5" stroke="#484848"/>
<path d="M1092.7 978.0 V1001.6" stroke-width="2.5" stroke="#484848"/>
<path d="M1306.0 978.0 V1001.6" stroke-width="2.5" stroke="#484848"/>
<path d="M1519.3 978.0 V1001.6" stroke-width="2.5" stroke="#484848"/>
<path d="M411.0 161.9 V790.3"/>
<path d="M411.0 163.5 H393.0" stroke-width="2.5" stroke="#484848"/>
<path d="M411.0 371.9 H393.0" stroke-width="2.5" stroke="#484848"/>
<path d="M411.0 580.3 H393.0" stroke-width="2.5" stroke="#484848"/>
<path d="M411.0 788.7 H393.0" stroke-width="2.5" stroke="#484848"/>
</g>
</g>
<g filter="url(#t)" font-family="'Liberation Sans', sans-serif" fill="#1a1a1a" stroke="#1a1a1a" stroke-width="0.25">
<text transform="translate(452.3 1060.0) scale(0.74 1.0)" font-size="38" text-anchor="middle">0</text>
<text transform="translate(665.6 1060.0) scale(0.74 1.0)" font-size="38" text-anchor="middle">1000</text>
<text transform="translate(878.9 1060.0) scale(0.74 1.0)" font-size="38" text-anchor="middle">2000</text>
<text transform="translate(1092.2 1060.0) scale(0.74 1.0)" font-size="38" text-anchor="middle">3000</text>
<text transform="translate(1305.5 1060.0) scale(0.74 1.0)" font-size="38" text-anchor="middle">4000</text>
<text transform="translate(1518.8 1060.0) scale(0.74 1.0)" font-size="38" text-anchor="middle">5000</text>
<text transform="translate(987.3 1151.0) scale(0.74 1.05)" font-size="38" text-anchor="middle">Iteration</text>
<text transform="translate(370.5 163.5) rotate(-90) scale(0.96 0.83)" font-size="38" text-anchor="middle">-5000</text>
<text transform="translate(370.5 371.9) rotate(-90) scale(0.96 0.83)" font-size="38" text-anchor="middle">-10000</text>
<text transform="translate(370.5 580.3) rotate(-90) scale(0.96 0.83)" font-size="38" text-anchor="middle">-15000</text>
<text transform="translate(370.5 788.7) rotate(-90) scale(0.96 0.83)" font-size="38" text-anchor="middle">-20000</text>
<text transform="translate(301.9 506.0) rotate(-90) scale(0.978 0.85)" font-size="38" text-anchor="middle">Log posterior</text>
<text transform="translate(1459.1 720.6) scale(0.745 1.05)" font-size="38">EXRW</text>
<text transform="translate(1459.1 765.8) scale(0.745 1.05)" font-size="38">EXL</text>
<text transform="translate(1459.1 811.1) scale(0.745 1.05)" font-size="38">NRW</text>
<text transform="translate(1459.1 856.5) scale(0.745 1.05)" font-size="38">NL</text>
<text transform="translate(1459.1 901.8) scale(0.745 1.05)" font-size="38">PMRW</text>
<text transform="translate(1459.1 947.3) scale(0.745 1.05)" font-size="38">PML</text>
</g>
</svg>
</body></html>
